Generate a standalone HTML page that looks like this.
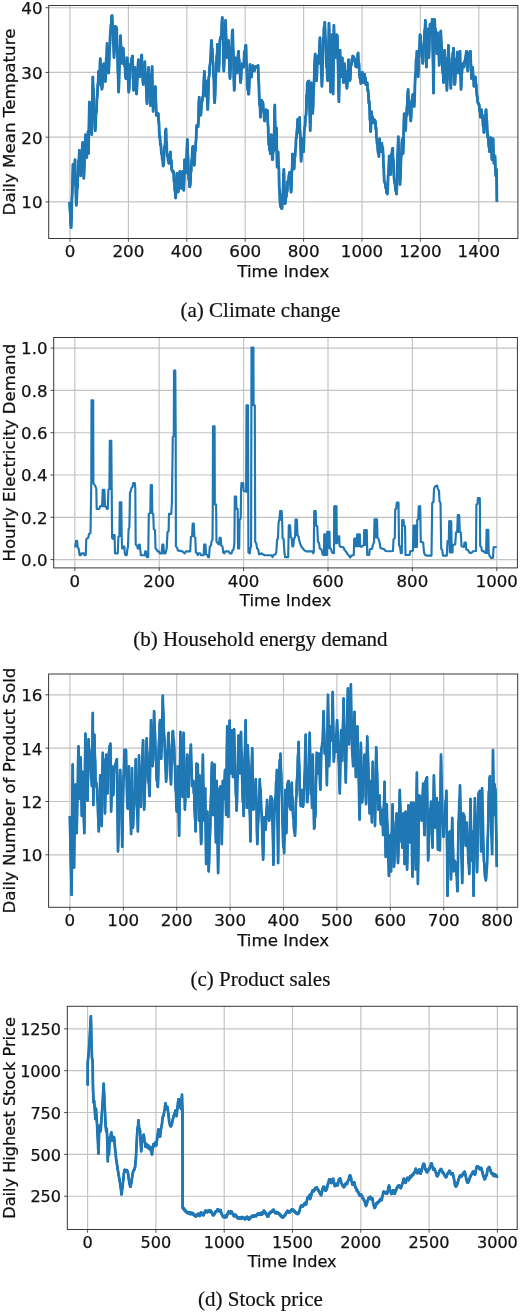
<!DOCTYPE html>
<html lang="en"><head><meta charset="utf-8"><title>Time series examples</title>
<style>
html,body{margin:0;padding:0;background:#fff}
svg{display:block}
.t{font-family:"DejaVu Sans", "Liberation Sans", sans-serif;fill:#111;stroke:#111;stroke-width:0.25}
.cap{font-family:"Liberation Serif", "DejaVu Serif", serif;fill:#111;font-size:21px;stroke:#111;stroke-width:0.2}
.g{stroke:#c3c3c3;stroke-width:1.15;fill:none}
.sp{stroke:#383838;stroke-width:1;fill:none}
.tk{stroke:#3a3a3a;stroke-width:0.9;fill:none}
.ln{stroke:#1f77b4;stroke-width:2.15;fill:none;stroke-linejoin:round;stroke-linecap:butt}
</style></head><body>
<svg width="520" height="1313" viewBox="0 0 520 1313">
<rect width="520" height="1313" fill="#fff"/>
<g id="chart-a">
<clipPath id="clip-a"><rect x="48.7" y="5.5" width="469.2" height="233.0"/></clipPath>
<path class="g" d="M70.00 5.5V238.5M128.40 5.5V238.5M186.80 5.5V238.5M245.20 5.5V238.5M303.60 5.5V238.5M362.00 5.5V238.5M420.40 5.5V238.5M478.80 5.5V238.5M48.7 201.90H517.9M48.7 137.17H517.9M48.7 72.44H517.9M48.7 7.71H517.9"/>
<g class="ln" clip-path="url(#clip-a)"><path id="ln-a" d="M69.6 201.9L70.0 210.8L70.3 212.9L70.7 224.6L71.1 227.9L71.5 217.0L71.9 199.6L72.3 192.3L72.7 175.4L73.0 164.4L73.4 174.0L73.7 176.2L74.0 184.6L74.3 178.9L74.6 166.2L75.0 159.6L75.3 172.9L75.6 179.9L76.0 197.5L76.3 205.4L76.7 200.2L77.1 189.0L77.5 187.1L77.8 176.9L78.2 174.1L78.6 160.5L79.0 159.3L79.4 150.0L79.7 160.4L80.1 161.3L80.4 173.1L80.7 176.0L81.1 171.5L81.5 160.6L81.9 157.7L82.3 146.7L82.7 142.3L83.0 157.9L83.4 164.4L83.8 178.5L84.2 170.5L84.7 153.4L85.1 148.1L85.5 134.6L85.9 145.2L86.3 148.2L86.7 157.7L87.0 152.9L87.4 142.6L87.7 141.5L88.0 131.7L88.4 153.8L88.7 139.2L89.1 116.9L89.4 101.9L89.8 110.4L90.1 110.1L90.5 120.6L90.9 120.2L91.3 132.4L91.7 134.6L92.1 117.6L92.5 93.2L92.8 76.9L93.2 88.8L93.6 91.2L94.0 107.2L94.4 110.5L94.8 125.7L95.2 130.8L95.6 125.2L96.0 113.3L96.5 111.8L96.9 99.0L97.3 96.3L97.8 84.4L98.2 81.8L98.6 71.2L99.0 81.3L99.4 84.6L99.7 78.9L100.0 63.6L100.3 58.6L100.7 68.7L101.1 70.8L101.5 84.8L101.9 89.4L102.3 87.2L102.7 76.3L103.0 77.5L103.4 64.8L103.8 63.5L104.2 70.8L104.6 69.4L105.0 78.9L105.3 81.7L105.8 75.4L106.2 59.3L106.6 56.9L107.1 43.3L107.5 54.3L107.8 55.9L108.2 68.2L108.6 73.1L109.0 66.7L109.4 52.2L109.8 46.9L110.2 34.6L110.5 32.8L110.9 25.0L111.3 24.8L111.7 15.8L112.1 15.4L112.5 25.8L112.8 30.1L113.2 43.3L113.6 45.5L114.0 57.7L114.5 48.9L114.9 33.9L115.3 26.0L115.8 27.6L116.2 27.1L116.7 28.9L117.1 45.1L117.5 50.6L117.8 69.2L118.2 77.0L118.6 92.3L119.0 83.4L119.4 65.9L119.8 62.2L120.2 45.0L120.5 35.6L120.9 44.6L121.3 47.4L121.7 58.7L122.1 63.5L122.5 61.1L122.8 50.2L123.2 48.1L123.7 55.4L124.1 56.7L124.6 66.1L125.0 66.1L125.5 76.7L125.9 78.8L126.4 75.7L126.8 61.5L127.3 57.7L127.7 69.2L128.0 71.9L128.4 86.9L128.8 92.3L129.2 88.3L129.6 77.0L130.0 78.5L130.3 65.5L130.7 63.5L131.2 63.6L131.6 58.1L132.0 59.2L132.5 55.8L132.8 69.2L133.2 75.7L133.6 90.4L134.0 86.4L134.4 77.1L134.8 75.2L135.2 67.3L135.6 78.3L136.1 82.8L136.5 94.2L136.9 89.0L137.3 78.8L137.7 75.4L138.0 64.7L138.4 59.6L138.8 66.4L139.1 66.6L139.4 76.3L139.8 76.9L140.2 75.6L140.5 66.1L140.9 65.9L141.3 56.8L141.7 54.8L142.1 64.7L142.5 67.8L142.8 80.8L143.2 84.6L143.6 82.8L144.0 70.4L144.4 70.1L144.8 61.5L145.2 70.4L145.5 73.8L145.9 85.1L146.3 87.5L146.7 100.4L147.1 103.8L147.5 96.7L147.9 83.9L148.2 80.3L148.6 67.3L149.0 74.7L149.3 74.3L149.6 80.8L149.9 92.0L150.3 95.8L150.6 105.8L151.0 98.8L151.4 82.1L151.7 79.9L152.1 66.3L152.4 84.7L152.8 94.2L153.1 111.5L153.5 107.0L154.0 95.4L154.4 90.4L154.7 90.1L155.1 87.0L155.4 86.5L155.7 99.6L156.0 103.4L156.3 115.4L156.7 115.3L157.1 114.1L157.5 114.8L157.9 113.3L158.3 113.5L158.6 122.8L158.9 121.4L159.2 130.8L159.6 138.0L160.0 136.3L160.4 145.2L160.8 143.7L161.2 150.0L161.5 154.2L161.9 153.5L162.3 160.0L162.7 158.0L163.1 166.1L163.5 165.4L163.8 162.9L164.2 149.9L164.6 146.2L165.1 144.2L165.5 130.6L166.0 128.8L166.3 140.4L166.6 141.8L166.9 151.9L167.3 156.1L167.7 154.7L168.1 160.6L168.5 159.3L168.8 163.5L169.2 163.3L169.6 154.4L170.0 157.9L170.4 151.9L170.8 160.4L171.3 160.3L171.7 169.2L172.1 171.0L172.5 170.2L172.9 172.5L173.3 171.2L173.7 173.1L174.0 181.6L174.4 179.7L174.8 190.8L175.2 191.1L175.6 198.1L176.0 193.2L176.5 179.0L176.9 173.1L177.3 183.0L177.7 182.0L178.1 192.3L178.5 190.6L178.8 181.3L179.2 183.5L179.6 172.0L180.0 171.2L180.4 178.9L180.9 180.8L181.3 188.5L181.8 184.7L182.2 173.1L182.7 171.2L183.1 181.1L183.5 182.0L183.8 190.4L184.2 178.6L184.6 159.6L185.0 166.9L185.4 163.2L185.8 172.2L186.2 173.1L186.5 164.8L186.9 148.7L187.3 139.4L187.7 152.3L188.1 157.9L188.5 173.1L188.8 179.6L189.2 176.9L189.6 187.0L190.0 186.5L190.4 182.9L190.8 170.3L191.2 171.4L191.5 161.5L192.0 158.5L192.4 149.1L192.9 146.2L193.3 154.9L193.8 156.8L194.2 165.4L194.6 162.6L195.0 151.6L195.4 150.7L195.8 142.3L196.2 138.5L196.5 127.0L196.9 125.0L197.3 126.0L197.7 125.9L198.1 126.9L198.5 120.0L198.8 103.3L199.2 97.1L199.6 104.3L199.9 102.4L200.2 113.6L200.6 115.4L201.0 113.8L201.5 103.6L201.9 101.9L202.3 100.7L202.7 96.9L203.1 96.2L203.5 89.9L204.0 77.9L204.4 71.2L204.7 83.0L205.1 85.8L205.4 96.2L205.8 93.8L206.2 82.6L206.5 80.8L206.9 93.3L207.3 97.6L207.7 109.6L208.1 101.6L208.5 84.9L208.8 76.9L209.3 75.9L209.7 66.1L210.2 63.5L210.6 58.7L211.1 45.9L211.5 40.4L211.9 48.4L212.3 48.5L212.7 60.5L213.1 63.5L213.5 76.3L213.9 79.7L214.2 96.8L214.6 102.9L215.1 95.6L215.5 79.9L216.0 73.1L216.3 68.7L216.7 55.8L217.1 54.7L217.5 44.2L217.9 55.9L218.4 59.3L218.8 71.2L219.2 63.3L219.6 46.1L220.0 39.4L220.4 39.2L220.8 36.7L221.2 36.5L221.5 34.0L221.9 21.5L222.3 17.3L222.7 33.7L223.1 40.4L223.5 61.3L223.8 71.2L224.3 60.3L224.7 43.8L225.1 35.6L225.6 20.2L226.0 34.5L226.5 43.0L226.9 57.7L227.3 55.1L227.7 45.8L228.1 48.2L228.5 40.4L228.8 53.8L229.2 57.6L229.6 72.6L230.0 78.8L230.4 71.8L230.9 56.4L231.3 48.1L231.8 45.7L232.2 32.0L232.7 29.8L233.1 47.1L233.5 56.2L233.8 77.8L234.2 90.4L234.6 85.0L235.0 70.1L235.4 69.5L235.8 57.7L236.2 64.8L236.7 65.3L237.1 73.1L237.6 68.5L238.0 55.9L238.5 51.0L238.8 58.6L239.2 59.7L239.6 70.9L240.0 73.1L240.3 79.1L240.6 82.7L241.0 79.2L241.5 67.2L241.9 63.5L242.3 64.9L242.7 64.7L243.1 67.2L243.5 67.3L243.8 64.7L244.2 54.7L244.6 51.0L245.1 50.8L245.5 45.6L246.0 45.2L246.4 62.9L246.9 70.9L247.3 86.5L247.7 89.8L248.1 89.4L248.5 94.3L248.8 94.2L249.2 86.5L249.6 72.4L250.0 64.4L250.4 71.0L250.8 69.2L251.2 76.9L251.5 77.1L251.9 69.2L252.3 70.0L252.7 65.4L253.1 69.0L253.6 67.9L254.0 71.2L254.5 70.7L254.9 67.3L255.4 66.3L255.8 66.7L256.1 66.6L256.5 67.3L256.9 67.3L257.3 66.9L257.7 65.5L258.1 65.4L258.5 78.8L258.8 82.4L259.2 96.2L259.6 105.0L260.0 106.6L260.4 117.3L260.7 114.7L261.1 105.0L261.4 107.0L261.7 100.0L262.2 102.0L262.6 101.7L263.1 103.8L263.5 112.0L263.9 110.3L264.2 118.7L264.6 121.2L265.0 120.7L265.4 113.5L265.8 114.1L266.1 109.6L266.5 110.0L266.8 110.0L267.2 110.5L267.5 110.6L267.8 122.2L268.1 126.8L268.5 138.5L268.8 145.0L269.2 142.3L269.6 150.5L270.0 148.7L270.4 153.8L270.7 149.9L271.0 139.4L271.4 134.6L271.7 145.2L272.0 149.6L272.3 159.6L272.7 159.6L273.1 150.0L273.5 151.6L273.9 146.2L274.2 135.1L274.5 114.7L274.8 104.8L275.1 121.7L275.4 131.4L275.8 150.0L276.2 141.6L276.5 127.9L276.8 150.4L277.1 167.3L277.4 165.8L277.8 154.5L278.1 151.9L278.5 164.8L278.9 168.9L279.2 186.2L279.6 192.3L280.0 201.5L280.4 205.8L280.8 207.3L281.1 206.5L281.5 208.6L281.9 208.7L282.2 205.8L282.6 195.3L282.9 192.3L283.2 186.3L283.5 175.0L283.9 169.2L284.2 182.5L284.6 188.9L285.0 203.8L285.4 202.9L285.9 196.4L286.3 196.8L286.7 192.3L287.2 191.6L287.6 181.4L288.1 180.8L288.5 180.7L288.9 175.0L289.2 175.7L289.6 172.1L290.0 179.5L290.4 179.5L290.8 189.2L291.1 192.3L291.5 185.4L291.8 170.8L292.2 167.4L292.5 153.8L292.8 161.6L293.2 158.6L293.5 167.6L293.9 169.2L294.2 168.3L294.6 157.3L295.0 157.3L295.4 150.0L295.8 146.8L296.1 137.9L296.5 138.3L296.9 130.8L297.3 127.4L297.7 119.2L298.1 125.8L298.5 125.4L298.9 132.7L299.2 126.6L299.6 117.3L300.0 130.6L300.4 137.6L300.8 153.0L301.1 161.5L301.5 155.5L301.9 144.5L302.3 138.5L302.7 145.3L303.1 145.3L303.5 151.9L303.8 146.6L304.2 132.4L304.6 126.9L305.1 126.0L305.5 116.5L306.0 115.4L306.3 110.5L306.6 95.3L307.0 93.4L307.3 82.7L307.7 82.6L308.1 81.2L308.5 81.5L308.9 80.8L309.3 100.8L309.7 111.0L310.2 130.8L310.6 116.4L311.0 95.1L311.4 82.7L311.8 96.7L312.2 100.1L312.7 113.5L313.1 107.2L313.5 90.7L313.9 84.6L314.3 76.3L314.7 61.2L315.2 53.9L315.5 63.4L315.9 63.7L316.2 77.6L316.5 80.8L316.9 76.0L317.3 61.1L317.7 55.8L318.1 60.5L318.5 59.0L318.9 63.5L319.2 58.1L319.6 44.0L320.0 37.5L320.4 49.0L320.8 55.2L321.2 69.4L321.5 74.9L321.9 86.5L322.4 74.1L322.8 51.5L323.3 38.5L323.7 37.5L324.0 27.2L324.4 29.4L324.8 22.1L325.3 36.8L325.7 44.2L326.1 57.7L326.5 67.0L326.9 65.8L327.3 77.8L327.7 80.8L328.0 69.2L328.4 48.7L328.7 39.3L329.0 23.1L329.4 38.0L329.7 43.9L330.0 57.7L330.3 76.8L330.6 92.3L331.0 75.3L331.5 50.5L331.9 34.6L332.3 56.6L332.7 71.0L333.1 94.2L333.5 63.6L333.9 25.0L334.2 36.0L334.6 38.8L335.0 52.3L335.4 57.7L335.7 53.2L336.0 38.9L336.4 34.6L336.7 35.2L337.0 35.0L337.3 35.6L337.7 54.0L338.1 66.8L338.5 87.5L338.9 101.9L339.2 88.0L339.6 65.0L340.0 50.0L340.4 61.9L340.8 66.3L341.1 76.9L341.5 72.3L341.9 61.9L342.3 57.7L342.7 69.2L343.1 71.1L343.5 82.7L343.8 79.5L344.2 67.6L344.6 63.5L345.0 71.4L345.4 71.0L345.8 78.8L346.2 84.0L346.5 83.9L346.9 88.5L347.3 85.0L347.7 72.0L348.1 70.8L348.5 59.6L348.8 68.8L349.1 68.6L349.5 78.2L349.8 80.8L350.3 79.2L350.7 66.6L351.1 65.4L351.5 64.9L351.9 59.0L352.3 59.7L352.7 55.8L353.1 56.8L353.5 56.4L353.8 57.6L354.2 57.7L354.7 61.8L355.1 61.6L355.6 66.3L356.0 66.9L356.5 66.9L356.9 67.3L357.3 66.1L357.7 54.9L358.1 52.9L358.5 63.3L359.0 63.1L359.4 73.1L359.9 78.3L360.3 77.2L360.8 83.7L361.2 83.2L361.5 76.4L361.9 76.4L362.3 72.1L362.7 77.8L363.1 77.0L363.5 82.7L363.8 81.3L364.2 75.7L364.6 74.0L365.0 78.6L365.4 77.5L365.8 84.8L366.1 84.6L366.5 84.2L366.9 82.8L367.3 82.7L367.7 90.8L368.1 89.8L368.5 96.2L368.8 103.3L369.2 101.0L369.6 107.7L369.9 119.5L370.3 121.4L370.6 131.7L370.9 127.5L371.2 115.7L371.5 111.5L372.0 118.8L372.4 116.6L372.9 123.1L373.2 122.5L373.5 119.8L373.9 119.2L374.2 120.0L374.6 119.9L375.0 120.9L375.4 121.2L375.7 129.1L376.1 127.5L376.4 138.0L376.7 138.5L377.1 143.3L377.4 143.3L377.7 148.1L378.1 152.8L378.5 152.5L378.9 156.7L379.2 150.1L379.6 138.5L380.0 146.8L380.4 143.7L380.8 151.9L381.2 151.3L381.5 144.1L381.9 143.3L382.3 149.8L382.7 147.3L383.1 153.8L383.5 165.7L383.8 168.5L384.2 180.8L384.6 182.5L385.0 182.4L385.4 184.6L385.8 188.5L386.2 186.0L386.5 192.7L386.9 190.7L387.3 194.2L387.7 188.9L388.1 176.3L388.5 173.1L388.8 166.3L389.2 155.8L389.6 164.9L390.0 166.2L390.4 175.0L390.8 170.3L391.2 157.5L391.5 153.8L391.9 153.6L392.3 149.0L392.7 148.1L393.0 158.5L393.4 160.2L393.7 172.6L394.0 176.9L394.5 183.0L394.9 182.9L395.4 188.5L395.8 191.2L396.2 191.4L396.5 194.2L396.9 185.8L397.2 167.1L397.5 157.7L397.9 149.2L398.3 136.5L398.6 151.2L398.9 154.3L399.2 169.2L399.6 179.6L400.0 184.6L400.4 177.6L400.8 164.6L401.1 157.7L401.5 153.1L401.9 142.4L402.3 138.5L402.7 148.0L403.1 153.8L403.5 142.6L403.8 124.7L404.2 113.5L404.6 122.2L405.0 121.3L405.4 130.8L405.8 128.4L406.1 116.6L406.5 116.1L406.9 107.7L407.3 104.5L407.7 93.0L408.1 89.4L408.5 98.6L409.0 101.1L409.4 109.6L409.9 115.4L410.3 113.9L410.8 121.2L411.2 116.0L411.5 104.2L411.9 100.0L412.3 99.4L412.7 94.6L413.1 94.2L413.5 100.4L413.8 100.5L414.2 106.7L414.6 98.3L415.0 83.0L415.4 75.0L415.8 71.7L416.1 59.1L416.5 60.6L416.9 51.0L417.3 63.3L417.7 66.6L418.1 76.9L418.5 69.6L418.8 55.7L419.2 50.0L419.6 46.1L420.0 34.6L420.3 35.3L420.6 35.6L420.9 43.4L421.2 43.6L421.5 50.0L421.9 57.0L422.3 55.1L422.7 63.5L423.1 61.3L423.5 48.3L423.9 46.1L424.2 43.6L424.6 31.0L425.0 28.5L425.4 20.2L425.7 37.9L426.0 48.7L426.4 67.3L426.8 57.7L427.2 37.8L427.7 28.9L428.1 41.8L428.5 44.9L428.9 57.7L429.2 49.9L429.6 32.6L430.0 24.0L430.4 29.9L430.8 29.7L431.1 34.6L431.5 33.0L431.9 22.2L432.3 19.2L432.7 47.7L433.1 65.4L433.5 93.3L433.8 70.9L434.2 42.0L434.6 19.2L435.0 27.8L435.4 28.9L435.8 38.5L436.2 46.9L436.5 46.9L436.9 53.9L437.3 48.6L437.7 36.9L438.1 32.7L438.5 46.6L438.8 52.0L439.2 65.4L439.6 58.9L440.0 45.0L440.4 41.0L440.8 30.8L441.2 41.3L441.5 44.4L441.9 59.2L442.3 63.5L442.7 73.0L443.1 72.6L443.5 82.7L443.8 74.5L444.2 58.7L444.6 50.0L445.0 58.0L445.4 57.6L445.8 67.3L446.2 78.3L446.5 80.4L446.9 90.4L447.3 80.7L447.7 65.0L448.1 59.7L448.5 45.2L448.8 55.8L449.2 59.0L449.6 69.2L450.0 78.8L450.4 78.2L450.8 88.5L451.2 82.3L451.5 70.1L451.9 63.5L452.3 62.0L452.7 53.2L453.1 55.2L453.5 48.1L453.8 62.3L454.2 68.9L454.6 84.6L455.0 83.7L455.4 74.5L455.8 73.1L456.2 69.9L456.5 58.6L456.9 59.6L457.3 51.9L457.7 62.5L458.1 63.9L458.5 73.1L458.8 69.7L459.2 58.6L459.6 58.8L460.0 51.0L460.3 67.7L460.6 73.8L461.0 89.4L461.3 85.0L461.6 74.3L462.0 72.6L462.3 63.5L462.7 65.3L463.1 64.3L463.5 66.9L463.9 67.3L464.2 66.7L464.6 61.0L465.0 62.9L465.4 57.7L465.8 56.4L466.2 52.3L466.5 51.0L466.9 59.4L467.3 61.9L467.7 71.2L468.1 69.8L468.5 57.2L468.9 55.8L469.2 55.8L469.6 51.9L470.0 53.5L470.4 51.0L470.8 62.6L471.2 67.5L471.5 78.8L471.9 78.3L472.3 68.2L472.7 67.3L473.1 75.4L473.5 76.9L473.9 86.5L474.2 85.9L474.6 79.9L475.0 81.1L475.4 76.9L475.8 83.4L476.2 84.3L476.5 90.4L476.9 96.2L477.3 96.0L477.7 101.9L478.1 103.5L478.5 103.0L478.8 104.9L479.2 104.8L479.6 110.9L480.0 110.8L480.4 117.3L480.8 116.8L481.2 110.1L481.5 109.6L481.9 114.7L482.3 114.8L482.7 119.2L483.1 126.5L483.5 125.7L483.9 132.7L484.2 132.2L484.6 124.8L485.0 123.1L485.4 121.1L485.8 110.4L486.1 109.6L486.5 118.3L486.9 121.1L487.3 130.8L487.7 137.7L488.1 135.5L488.5 142.3L488.8 146.7L489.2 147.5L489.6 151.9L490.0 148.9L490.4 138.5L490.8 137.5L491.2 147.1L491.5 148.9L491.9 159.6L492.3 156.3L492.7 143.1L493.1 138.5L493.5 153.2L493.9 163.5L494.2 163.1L494.6 156.6L495.0 155.8L495.4 168.1L495.8 176.0L496.2 174.3L496.5 169.2L496.9 201.9"/>
<use href="#ln-a" x="-0.33"/><use href="#ln-a" x="0.33"/>
</g>
<path class="tk" d="M70.00 238.5v3.2M128.40 238.5v3.2M186.80 238.5v3.2M245.20 238.5v3.2M303.60 238.5v3.2M362.00 238.5v3.2M420.40 238.5v3.2M478.80 238.5v3.2M48.7 201.90h-3.2M48.7 137.17h-3.2M48.7 72.44h-3.2M48.7 7.71h-3.2"/>
<rect class="sp" x="48.7" y="5.5" width="469.2" height="233.0"/>
<g class="t" font-size="16.7" text-anchor="middle">
<text x="70.0" y="257.3">0</text>
<text x="128.4" y="257.3">200</text>
<text x="186.8" y="257.3">400</text>
<text x="245.2" y="257.3">600</text>
<text x="303.6" y="257.3">800</text>
<text x="362.0" y="257.3">1000</text>
<text x="420.4" y="257.3">1200</text>
<text x="478.8" y="257.3">1400</text>
<text x="283.3" y="277.2">Time Index</text>
<text transform="translate(14.8 122.0) rotate(-90)">Daily Mean Tempature</text>
</g>
<g class="t" font-size="16.7" text-anchor="end">
<text x="42.5" y="208.2">10</text>
<text x="42.5" y="143.5">20</text>
<text x="42.5" y="78.8">30</text>
<text x="42.5" y="14.1">40</text>
</g>
<text class="cap" text-anchor="middle" x="260.4" y="316.9">(a) Climate change</text>
</g>
<g id="chart-b">
<clipPath id="clip-b"><rect x="53.7" y="337.5" width="463.7" height="230.4"/></clipPath>
<path class="g" d="M74.80 337.5V567.9M159.20 337.5V567.9M243.60 337.5V567.9M328.00 337.5V567.9M412.40 337.5V567.9M496.80 337.5V567.9M53.7 559.60H517.4M53.7 517.30H517.4M53.7 475.00H517.4M53.7 432.70H517.4M53.7 390.40H517.4M53.7 348.10H517.4"/>
<g class="ln" clip-path="url(#clip-b)"><path id="ln-b" d="M74.2 546.5L75.5 546.5L76.1 540.8L77.1 540.8L77.7 547.5L78.6 548.5L79.6 555.2L80.9 555.2L81.5 553.3L83.8 553.3L84.4 555.2L85.7 555.2L86.3 538.9L88.2 537.9L89.0 534.0L90.5 533.1L91.3 481.1L91.5 400.4L91.9 481.1L92.4 400.4L92.8 481.1L93.2 400.4L93.4 483.1L95.3 486.0L96.3 488.9L96.7 509.0L99.2 509.0L100.2 506.1L102.1 506.1L102.7 489.8L103.1 506.1L103.5 489.8L103.9 506.1L104.4 489.8L105.0 506.1L106.3 507.1L106.9 509.0L107.8 509.0L108.4 489.8L109.4 488.9L109.8 440.8L110.2 488.9L110.5 440.8L110.9 488.9L111.3 440.8L111.7 488.9L112.1 537.9L113.2 538.9L113.6 535.0L114.6 535.0L115.0 553.3L117.8 553.3L118.4 536.9L119.4 536.0L119.8 502.3L120.2 536.0L120.5 502.3L120.9 536.0L121.3 502.3L121.7 536.0L122.1 548.5L122.8 548.5L123.2 546.5L124.4 546.5L124.8 553.3L125.5 555.2L126.7 555.2L127.5 548.5L128.0 546.5L128.6 529.2L129.4 527.3L130.0 492.7L130.9 490.8L131.5 487.9L132.5 486.9L133.2 483.1L134.8 483.1L135.3 488.9L135.7 544.6L137.1 545.6L137.7 548.5L138.6 548.5L139.0 544.6L139.8 544.6L140.2 549.4L140.9 555.2L144.8 555.2L145.2 551.4L145.9 551.4L146.3 556.1L147.1 557.1L148.2 557.1L148.2 557.1L148.8 513.9L150.3 512.9L150.7 485.0L151.3 512.9L151.9 485.0L152.3 512.9L153.2 513.9L153.8 529.2L155.0 530.2L155.5 548.5L156.7 549.4L157.5 551.4L159.0 551.4L159.8 553.3L161.7 553.3L162.3 544.6L162.8 553.3L163.4 544.6L164.0 553.3L165.5 553.3L166.7 548.5L167.5 532.1L168.6 531.1L169.0 513.9L171.3 513.9L171.9 502.3L172.8 436.9L173.8 436.0L174.0 370.6L174.3 436.0L174.7 370.6L175.0 436.0L175.3 370.6L175.7 436.0L175.9 546.5L177.1 547.5L177.8 550.4L182.5 551.4L183.4 552.3L184.8 553.3L185.9 551.4L190.2 551.4L190.9 536.9L192.1 536.0L192.7 523.5L193.2 536.0L193.8 523.5L194.4 536.9L195.3 537.9L195.9 552.3L197.1 553.3L197.8 555.2L198.6 553.3L200.2 553.3L200.9 555.2L203.6 555.2L204.2 544.6L204.5 554.2L204.9 544.6L205.2 554.2L205.5 544.6L206.1 554.2L207.5 555.2L208.0 557.1L209.0 557.1L209.8 546.5L210.9 545.6L211.7 540.8L212.5 539.8L212.8 504.2L213.0 426.4L213.4 504.2L213.8 426.4L214.2 504.2L214.6 426.4L214.8 504.2L216.1 504.6L216.5 541.7L218.0 543.6L219.0 544.6L219.6 537.9L220.7 537.9L221.3 545.6L222.5 546.5L223.2 552.3L224.4 553.3L225.2 551.4L228.6 551.4L229.8 553.3L231.5 553.3L232.5 550.4L233.6 549.4L234.4 542.7L234.8 496.5L235.1 509.0L235.4 496.5L235.8 509.0L236.1 496.5L236.5 509.0L237.7 509.0L238.0 548.5L239.2 548.5L239.6 519.6L240.7 518.6L241.1 488.9L241.5 483.1L243.2 483.1L243.6 490.8L246.1 491.7L246.5 405.2L246.9 491.7L247.3 405.2L247.7 491.7L248.0 405.2L248.4 552.3L249.8 553.3L250.5 547.5L251.1 546.5L251.5 347.5L252.0 405.2L252.5 347.5L252.9 405.2L253.4 347.5L253.6 405.2L254.8 405.2L255.2 541.7L256.3 543.6L257.1 548.5L258.2 549.4L259.0 554.2L260.5 554.2L261.3 553.3L262.9 554.2L264.8 555.2L271.5 555.2L272.5 557.1L273.4 555.2L275.4 554.2L276.3 552.3L277.1 539.8L277.9 538.9L278.6 522.5L279.4 519.6L280.1 511.0L280.5 519.6L280.9 511.0L281.3 519.6L281.7 511.0L282.1 519.6L282.6 537.9L283.6 538.9L284.4 552.3L285.1 557.1L288.2 557.1L288.8 525.4L289.1 536.9L289.5 525.4L289.8 536.9L290.1 525.4L290.7 536.9L291.7 537.9L292.3 546.5L293.2 546.5L294.0 538.9L295.1 536.9L295.5 519.6L295.9 535.0L296.2 519.6L296.5 535.0L296.9 519.6L297.5 535.0L298.6 536.9L299.8 542.7L301.3 546.5L302.9 548.5L304.4 550.4L306.1 551.4L312.9 551.4L313.2 553.3L313.8 552.3L314.2 511.0L314.6 525.4L315.0 511.0L315.3 525.4L315.7 511.0L316.1 525.4L317.3 526.4L317.9 541.7L319.0 542.7L319.8 548.5L321.5 549.4L322.5 554.2L323.6 555.2L324.0 555.0L324.2 534.4L324.8 555.0L325.2 534.4L325.8 555.0L326.2 534.4L326.5 555.0L327.0 555.0L327.2 531.9L327.6 548.1L328.0 531.9L328.4 548.1L328.8 531.9L329.1 548.1L329.5 531.9L329.8 548.1L331.0 548.8L331.8 551.9L332.8 553.1L334.0 553.1L334.2 506.2L334.6 543.1L335.0 506.2L335.4 543.1L335.8 506.2L336.1 543.1L336.5 506.2L336.8 543.1L337.2 543.1L337.5 536.2L339.2 536.2L339.6 546.2L340.9 546.9L343.4 547.2L344.6 550.0L346.2 551.9L347.8 554.4L349.0 555.6L350.2 557.5L351.5 555.6L353.8 555.0L354.2 538.8L354.8 546.2L355.2 538.5L355.8 546.2L356.2 538.2L356.8 546.2L357.2 534.4L357.9 546.2L358.5 534.4L359.1 546.2L359.8 534.4L360.2 546.2L361.5 546.9L363.8 545.0L364.2 530.0L364.7 545.0L365.1 530.0L365.5 545.0L365.9 530.0L366.3 545.0L366.8 530.0L367.2 555.0L369.2 555.0L369.8 549.4L372.1 548.8L372.8 545.0L374.0 542.5L374.5 519.4L374.9 537.5L375.3 519.4L375.8 537.5L376.2 519.4L376.6 537.5L377.0 519.4L377.5 537.5L378.5 538.8L379.6 542.5L380.5 548.1L382.8 548.8L384.6 549.4L385.5 551.0L389.0 551.2L393.0 551.0L393.5 539.4L394.8 538.1L395.2 509.4L396.2 508.8L396.8 502.5L398.5 502.5L399.0 545.0L400.0 546.9L400.8 553.1L401.8 553.1L402.2 520.0L403.5 520.0L404.0 525.6L405.0 526.2L405.5 555.0L409.6 555.0L410.2 551.2L413.0 550.6L413.5 525.6L414.0 546.9L414.5 525.6L415.0 546.9L415.5 525.6L416.0 546.9L416.5 525.6L417.0 546.9L417.2 520.0L418.2 519.4L418.8 506.2L419.0 506.2L420.2 506.2L420.8 541.9L423.2 542.5L424.0 552.5L425.2 555.0L426.5 555.6L431.5 555.6L432.2 503.1L433.5 501.9L434.0 488.8L435.2 486.2L437.2 485.6L438.0 489.4L439.0 490.6L439.5 501.2L440.5 503.1L441.2 548.8L442.2 550.0L443.0 555.6L446.8 555.6L447.5 541.2L448.8 540.6L449.2 521.2L449.8 552.5L450.2 521.2L450.8 552.5L451.2 521.2L451.8 552.5L452.5 552.5L452.8 545.0L455.2 544.4L456.0 532.5L457.2 531.9L457.8 515.0L458.1 531.9L458.5 515.0L458.9 531.9L459.2 515.0L459.8 531.9L460.8 532.5L461.5 546.2L464.0 546.9L464.5 542.5L465.8 542.5L466.2 549.4L468.0 550.0L469.0 551.9L470.2 553.1L472.1 552.5L473.0 551.2L475.5 551.0L476.0 550.9L476.4 504.4L477.5 503.9L477.9 498.0L479.8 498.0L480.2 546.1L481.3 547.2L481.9 550.9L484.0 551.4L485.1 553.0L486.1 553.0L486.6 529.8L487.0 553.0L487.4 529.8L487.9 553.0L488.3 529.8L488.7 553.6L489.9 556.2L490.9 557.8L493.0 557.8L493.6 547.2L496.7 547.0"/>
</g>
<path class="tk" d="M74.80 567.9v3.2M159.20 567.9v3.2M243.60 567.9v3.2M328.00 567.9v3.2M412.40 567.9v3.2M496.80 567.9v3.2M53.7 559.60h-3.2M53.7 517.30h-3.2M53.7 475.00h-3.2M53.7 432.70h-3.2M53.7 390.40h-3.2M53.7 348.10h-3.2"/>
<rect class="sp" x="53.7" y="337.5" width="463.7" height="230.4"/>
<g class="t" font-size="16.6" text-anchor="middle">
<text x="74.8" y="586.6">0</text>
<text x="159.2" y="586.6">200</text>
<text x="243.6" y="586.6">400</text>
<text x="328.0" y="586.6">600</text>
<text x="412.4" y="586.6">800</text>
<text x="496.8" y="586.6">1000</text>
<text x="285.6" y="606.3">Time Index</text>
<text transform="translate(15.0 452.7) rotate(-90)">Hourly Electricity Demand</text>
</g>
<g class="t" font-size="16.6" text-anchor="end">
<text x="47.5" y="565.9">0.0</text>
<text x="47.5" y="523.6">0.2</text>
<text x="47.5" y="481.3">0.4</text>
<text x="47.5" y="439.0">0.6</text>
<text x="47.5" y="396.7">0.8</text>
<text x="47.5" y="354.4">1.0</text>
</g>
<text class="cap" text-anchor="middle" x="260.4" y="646.2">(b) Household energy demand</text>
</g>
<g id="chart-c">
<clipPath id="clip-c"><rect x="48.6" y="674.0" width="469.1" height="233.3"/></clipPath>
<path class="g" d="M69.90 674.0V907.3M123.30 674.0V907.3M176.70 674.0V907.3M230.10 674.0V907.3M283.50 674.0V907.3M336.90 674.0V907.3M390.30 674.0V907.3M443.70 674.0V907.3M497.10 674.0V907.3M48.6 854.80H517.7M48.6 801.47H517.7M48.6 748.14H517.7M48.6 694.81H517.7"/>
<g class="ln" clip-path="url(#clip-c)"><path id="ln-c" d="M69.8 816.1L70.2 834.3L70.5 845.7L70.9 866.6L71.2 877.4L71.6 895.0L72.0 854.3L72.3 805.5L72.7 764.4L73.1 792.0L73.4 813.3L73.8 843.6L74.1 867.8L74.5 829.2L74.9 785.3L75.2 785.0L75.6 784.4L76.0 802.5L76.3 814.4L76.7 833.3L77.0 819.5L77.4 796.6L77.8 783.3L78.1 760.6L78.5 746.3L78.9 767.7L79.2 778.4L79.6 798.9L79.9 787.5L80.3 767.1L80.7 757.2L81.0 778.5L81.4 792.8L81.8 816.1L82.1 803.6L82.5 784.6L82.8 771.7L83.2 789.0L83.6 800.2L83.9 821.5L84.3 833.3L84.7 802.1L85.0 763.9L85.4 733.6L85.7 750.1L86.1 757.7L86.5 773.5L86.8 785.5L87.2 789.9L87.5 800.7L87.9 781.9L88.3 757.5L88.6 739.1L89.0 748.9L89.4 749.7L89.7 759.0L90.1 765.5L90.5 764.6L90.8 771.7L91.2 779.2L91.5 779.0L91.9 786.2L92.2 765.2L92.5 734.0L92.8 712.8L93.1 761.2L93.3 805.2L93.7 784.6L94.1 755.2L94.4 734.5L94.8 753.6L95.2 762.0L95.5 780.8L95.9 783.8L96.3 782.2L96.6 787.2L97.0 788.0L97.3 799.3L97.7 802.0L98.1 816.1L98.4 820.0L98.8 831.5L99.2 819.2L99.5 800.2L99.9 792.8L100.2 775.3L100.6 791.0L101.0 797.0L101.3 815.7L101.7 826.1L102.1 804.9L102.4 774.1L102.8 752.7L103.1 760.2L103.5 759.0L103.9 766.3L104.2 785.6L104.6 793.8L105.0 813.4L105.3 801.4L105.7 780.7L106.0 771.0L106.4 754.5L106.8 770.8L107.1 777.3L107.5 793.5L107.9 787.0L108.2 769.0L108.6 764.5L108.9 751.8L109.3 751.3L109.7 745.7L110.0 746.7L110.4 743.6L110.8 780.3L111.1 811.6L111.5 798.5L111.8 779.5L112.2 766.3L112.6 777.7L112.9 782.1L113.3 795.3L113.7 788.1L114.0 774.9L114.4 768.1L114.7 767.6L115.1 764.6L115.5 764.4L115.8 763.8L116.2 760.6L116.6 761.6L116.9 759.0L117.3 793.5L117.6 817.1L118.0 851.5L118.4 837.6L118.7 814.1L119.1 798.9L119.5 791.8L119.8 777.1L120.2 769.9L120.5 783.3L120.9 785.3L121.3 798.9L121.6 816.9L121.9 828.9L122.2 846.9L122.6 827.0L123.0 800.7L123.4 780.8L123.8 773.3L124.2 757.2L124.5 749.9L124.9 749.9L125.3 749.9L125.6 749.9L126.0 749.9L126.3 768.7L126.7 779.6L127.1 798.9L127.4 806.8L127.8 808.9L128.2 797.9L128.5 777.6L128.9 766.3L129.2 780.2L129.6 784.8L130.0 798.9L130.3 812.4L130.7 818.7L131.1 834.2L131.4 815.6L131.7 786.4L132.0 768.1L132.3 791.5L132.6 805.4L132.9 827.9L133.2 823.8L133.6 812.7L134.0 808.0L134.3 805.0L134.7 794.1L135.0 789.8L135.4 776.2L135.8 759.0L136.1 774.4L136.5 783.6L136.9 798.9L137.2 812.2L137.6 818.9L137.9 831.5L138.3 807.7L138.7 778.8L139.0 755.4L139.3 765.7L139.7 769.8L140.0 780.8L140.3 791.2L140.6 794.6L140.9 807.0L141.2 798.9L141.6 782.7L142.0 773.5L142.3 764.5L142.7 748.7L143.1 740.0L143.4 765.7L143.8 784.6L144.1 809.8L144.5 803.7L144.9 786.4L145.2 780.8L145.6 772.8L146.0 756.7L146.3 750.6L146.7 738.2L147.0 748.8L147.4 753.4L147.8 766.9L148.1 773.5L148.5 782.8L148.9 782.9L149.2 792.2L149.6 796.2L149.9 781.0L150.3 755.2L150.7 741.0L151.0 720.0L151.4 734.5L151.8 741.5L152.1 757.6L152.5 766.3L152.9 756.4L153.3 734.9L153.7 728.1L154.1 711.0L154.5 725.6L155.0 733.3L155.4 748.1L155.7 759.2L156.1 762.8L156.5 775.3L156.8 780.8L157.2 778.1L157.5 786.3L157.9 787.1L158.3 773.8L158.6 752.7L159.0 740.9L159.4 737.9L159.7 723.3L160.1 720.0L160.5 736.6L160.8 742.5L161.2 759.0L161.6 746.5L162.0 725.1L162.4 714.3L162.8 695.6L163.1 708.3L163.4 714.4L163.7 726.4L164.1 735.3L164.4 738.6L164.8 748.1L165.2 761.5L165.6 767.2L166.1 781.7L166.5 775.6L166.9 759.1L167.3 751.8L167.8 749.3L168.2 735.1L168.6 732.7L169.0 748.4L169.5 753.8L169.9 768.1L170.2 775.6L170.6 776.8L171.0 784.4L171.3 773.2L171.6 755.7L171.9 744.5L172.2 743.1L172.6 731.7L173.0 730.9L173.4 740.3L173.8 739.6L174.2 748.1L174.6 762.2L175.0 766.4L175.3 780.8L175.7 790.3L176.0 793.0L176.4 807.7L176.8 811.6L177.1 799.9L177.5 778.0L177.8 766.3L178.3 792.3L178.7 810.8L179.1 836.0L179.5 804.8L180.0 764.2L180.4 731.8L180.8 749.2L181.1 755.7L181.5 773.5L181.8 783.9L182.2 786.7L182.6 797.1L182.9 779.5L183.3 750.8L183.7 732.7L184.1 760.4L184.5 782.2L184.9 809.8L185.3 799.6L185.8 781.8L186.2 773.5L186.6 770.7L186.9 758.9L187.3 754.5L187.6 772.3L188.0 778.9L188.4 797.1L188.7 791.2L189.1 776.5L189.4 769.9L189.8 766.5L190.2 755.3L190.5 752.5L190.9 744.5L191.3 762.3L191.6 769.1L192.0 786.2L192.4 786.0L192.7 781.9L193.1 783.2L193.4 780.8L193.8 792.9L194.2 794.1L194.5 806.1L194.9 816.7L195.3 820.8L195.6 831.5L195.9 811.2L196.2 784.0L196.5 763.5L196.9 764.0L197.4 764.0L197.8 764.4L198.2 785.8L198.5 800.0L198.9 820.6L199.2 801.8L199.6 775.3L200.0 795.0L200.3 807.1L200.7 830.0L201.1 844.2L201.4 838.9L201.7 823.5L202.0 817.0L202.3 800.0L202.6 772.5L202.9 754.5L203.2 779.4L203.6 795.7L204.0 820.6L204.4 811.4L204.8 796.2L205.2 788.0L205.5 815.4L205.8 837.2L206.1 864.1L206.6 850.1L207.0 827.1L207.4 811.6L207.8 834.2L208.2 848.1L208.7 871.4L209.1 862.2L209.5 844.8L210.0 835.1L210.3 825.9L210.6 808.0L210.9 798.9L211.2 790.3L211.6 772.9L212.0 762.6L212.3 783.1L212.7 795.5L213.1 815.2L213.4 804.8L213.8 786.4L214.1 779.9L214.5 764.4L214.9 786.9L215.2 800.0L215.6 826.7L215.9 842.4L216.3 814.2L216.7 780.8L217.0 806.9L217.4 824.2L217.8 852.9L218.1 873.2L218.5 848.7L218.8 814.9L219.2 789.8L219.6 789.7L219.9 787.3L220.3 788.2L220.7 786.2L221.0 808.8L221.4 821.2L221.8 844.2L222.1 826.9L222.5 799.7L222.8 780.8L223.2 789.7L223.6 789.0L223.9 798.9L224.3 792.8L224.7 777.6L225.0 769.9L225.4 786.9L225.7 797.4L226.1 815.2L226.5 787.4L226.8 753.8L227.2 726.4L227.6 758.4L227.9 783.6L228.3 817.0L228.7 788.3L229.1 749.0L229.6 720.6L230.0 740.2L230.4 752.5L230.8 773.5L231.2 762.2L231.5 742.6L231.9 730.0L232.3 749.4L232.6 757.5L233.0 777.1L233.4 763.2L233.7 741.2L234.1 729.1L234.4 744.6L234.8 752.2L235.2 771.8L235.5 780.8L235.9 794.3L236.3 798.7L236.6 810.7L237.0 800.9L237.3 783.1L237.7 773.5L238.0 763.2L238.3 746.1L238.6 735.4L239.0 750.5L239.5 757.5L239.9 773.5L240.2 761.3L240.6 742.8L241.0 731.8L241.3 748.5L241.7 758.3L242.1 776.4L242.4 788.0L242.8 800.5L243.3 803.9L243.7 816.1L244.0 798.8L244.3 774.1L244.6 759.0L245.0 749.5L245.3 729.1L245.7 720.0L246.0 751.2L246.4 776.4L246.8 808.0L247.1 788.8L247.5 762.8L247.8 745.4L248.3 760.6L248.7 769.5L249.1 784.4L249.5 806.0L250.0 818.7L250.4 841.5L250.7 822.4L251.0 793.9L251.3 773.5L251.8 762.8L252.2 748.1L252.6 772.5L253.0 786.2L253.5 809.8L253.8 808.8L254.1 801.0L254.4 798.9L254.7 795.6L255.1 785.7L255.5 786.6L255.8 779.0L256.2 797.0L256.6 807.7L256.9 831.0L257.3 844.2L257.6 838.7L258.0 824.3L258.4 817.0L258.7 811.1L259.1 796.2L259.5 792.1L259.8 779.0L260.2 788.3L260.5 789.8L260.9 798.9L261.3 810.3L261.6 812.0L262.0 824.3L262.4 838.3L262.7 845.9L263.1 859.6L263.5 848.3L263.9 829.0L264.4 817.0L264.8 823.0L265.2 823.6L265.6 829.7L266.0 823.9L266.3 812.7L266.7 809.6L267.1 799.8L267.4 807.9L267.8 807.8L268.2 817.0L268.5 818.8L268.9 818.7L269.2 820.6L269.6 816.5L270.0 806.0L270.3 803.9L270.7 796.2L271.1 797.3L271.4 797.2L271.8 798.9L272.1 798.9L272.6 823.9L273.0 840.9L273.4 865.0L273.7 850.6L274.0 826.8L274.3 813.4L274.7 810.4L275.0 800.2L275.4 798.9L275.8 794.3L276.1 781.6L276.5 780.7L276.9 769.9L277.3 803.5L277.7 829.3L278.1 863.2L278.4 836.6L278.7 799.5L279.0 773.5L279.4 770.9L279.8 759.9L280.1 761.9L280.5 753.6L280.9 768.0L281.2 773.7L281.6 790.0L282.0 798.9L282.3 815.1L282.7 826.0L283.1 842.4L283.4 847.5L283.8 846.9L284.1 853.3L284.5 834.3L284.9 809.0L285.2 789.8L285.6 806.1L285.9 815.2L286.3 833.3L286.7 820.7L287.0 797.5L287.4 784.4L287.8 783.8L288.1 781.4L288.5 780.8L288.9 791.5L289.2 795.0L289.6 806.1L289.9 807.9L290.3 807.8L290.7 809.8L291.0 802.9L291.4 787.7L291.8 782.6L292.1 795.6L292.5 797.8L292.8 809.8L293.2 818.0L293.6 817.9L293.9 827.9L294.3 832.0L294.6 831.8L295.0 836.0L295.4 825.3L295.7 808.8L296.1 798.9L296.5 794.4L296.8 781.6L297.2 777.1L297.6 770.4L297.9 756.6L298.3 752.2L298.6 741.8L299.0 759.4L299.4 770.8L299.7 788.0L300.1 796.6L300.4 798.4L300.8 806.1L301.2 802.4L301.5 792.9L301.9 789.8L302.3 797.7L302.6 798.3L303.0 807.0L303.4 803.3L303.7 790.5L304.1 790.5L304.4 780.8L304.9 768.7L305.3 746.2L305.7 734.5L306.1 759.4L306.6 776.9L307.0 801.6L307.3 802.2L307.7 792.8L308.1 794.7L308.4 788.0L308.9 772.7L309.3 749.4L309.7 732.7L310.1 752.3L310.5 761.0L311.0 780.8L311.3 792.9L311.7 795.5L312.1 808.0L312.4 784.8L312.8 754.5L313.2 781.2L313.6 801.2L314.1 828.8L314.5 827.3L314.9 817.8L315.3 817.0L315.7 804.5L316.0 781.3L316.4 771.7L316.8 752.7L317.1 763.4L317.5 763.3L317.9 773.5L318.2 770.1L318.6 758.1L318.9 753.6L319.3 764.3L319.7 769.8L320.0 783.2L320.4 789.8L320.8 777.8L321.1 758.4L321.5 748.1L321.8 747.5L322.2 743.2L322.6 742.7L322.9 735.2L323.3 718.3L323.6 711.0L324.0 727.9L324.4 737.8L324.7 753.6L325.1 752.9L325.5 745.2L325.8 744.5L326.2 760.9L326.6 768.8L326.9 785.3L327.3 758.3L327.6 723.1L328.0 694.7L328.4 721.9L328.7 740.2L329.1 766.3L329.5 754.7L329.8 737.4L330.2 726.4L330.5 733.4L330.9 731.5L331.3 740.6L331.6 740.9L332.0 728.5L332.4 705.5L332.7 691.9L333.1 717.7L333.4 735.7L333.8 761.7L334.2 756.2L334.5 740.8L334.9 735.4L335.3 744.0L335.6 743.2L336.0 751.8L336.3 743.0L336.7 728.7L337.1 720.0L337.4 730.4L337.8 733.0L338.2 744.5L338.6 759.1L339.0 766.0L339.4 782.8L339.8 793.5L340.2 774.0L340.6 748.9L341.1 730.0L341.4 743.5L341.8 747.3L342.1 760.8L342.5 748.4L342.9 727.3L343.2 716.8L343.6 698.3L344.0 717.6L344.3 728.8L344.7 748.1L345.0 761.5L345.4 767.3L345.8 782.6L346.1 765.9L346.5 741.2L346.9 726.4L347.2 717.5L347.6 699.4L347.9 688.3L348.3 709.7L348.7 722.2L349.0 744.5L349.4 736.4L349.8 717.8L350.1 710.6L350.5 694.3L350.9 684.3L351.2 708.3L351.6 722.3L352.0 744.5L352.3 754.8L352.7 757.1L353.1 766.3L353.4 755.5L353.8 735.2L354.1 727.4L354.5 711.9L354.9 731.8L355.2 741.7L355.6 764.5L355.9 777.1L356.3 767.7L356.7 749.6L357.0 742.8L357.4 726.4L357.8 743.6L358.1 753.7L358.5 771.5L358.9 784.4L359.2 804.8L359.6 819.7L360.0 796.7L360.4 766.0L360.9 742.7L361.3 764.6L361.7 780.1L362.1 802.5L362.5 797.6L362.8 784.4L363.2 782.4L363.6 773.5L363.9 770.6L364.3 757.2L364.6 754.5L365.0 768.8L365.4 775.6L365.7 795.2L366.1 804.3L366.5 785.4L366.8 756.7L367.2 736.4L367.6 748.8L367.9 753.7L368.3 766.3L368.7 786.0L369.1 794.7L369.6 813.4L370.0 805.0L370.4 789.0L370.8 780.8L371.2 796.9L371.5 806.8L371.9 822.5L372.2 804.1L372.5 778.4L372.8 761.7L373.2 776.4L373.7 782.7L374.1 798.9L374.4 810.1L374.7 814.8L375.0 826.1L375.4 802.6L375.8 771.4L376.2 747.2L376.7 763.9L377.1 771.7L377.5 789.8L377.8 800.2L378.1 799.6L378.4 809.8L378.8 808.0L379.2 796.3L379.5 795.3L379.9 806.4L380.2 806.8L380.6 820.3L381.0 824.3L381.3 821.1L381.7 811.2L382.1 809.8L382.4 820.9L382.8 823.3L383.1 835.1L383.5 824.9L383.9 806.1L384.2 796.7L384.6 781.7L385.0 810.6L385.3 829.9L385.7 856.9L386.0 842.1L386.4 819.4L386.8 804.3L387.1 819.9L387.5 827.5L387.9 844.2L388.2 858.7L388.6 863.1L388.9 875.9L389.3 865.5L389.7 846.4L390.0 835.1L390.4 850.2L390.8 856.8L391.1 871.4L391.5 856.6L391.8 835.9L392.2 823.2L392.6 804.3L392.9 823.7L393.3 832.8L393.7 853.4L394.0 866.9L394.4 860.1L394.7 841.7L395.1 835.1L395.5 832.4L395.8 822.3L396.2 820.9L396.6 813.4L396.9 827.7L397.3 835.9L397.6 852.6L398.0 863.2L398.4 850.7L398.7 831.6L399.1 822.2L399.5 800.8L399.8 789.8L400.2 804.5L400.5 809.9L400.9 826.4L401.3 835.1L401.6 842.1L402.0 841.2L402.4 847.8L402.7 838.8L403.1 823.1L403.4 813.4L403.8 832.6L404.2 843.3L404.5 864.1L404.9 848.5L405.3 826.3L405.6 811.6L406.0 829.2L406.3 836.9L406.7 857.2L407.1 869.6L407.4 855.7L407.8 835.2L408.2 823.9L408.5 805.2L408.9 817.2L409.2 819.9L409.6 836.7L410.0 842.4L410.3 832.8L410.7 814.2L411.1 802.5L411.4 822.8L411.8 836.4L412.1 862.0L412.5 876.8L412.9 854.8L413.2 824.3L413.6 802.5L414.0 815.0L414.3 821.7L414.7 835.1L415.0 850.4L415.4 854.5L415.8 869.6L416.1 840.9L416.5 801.0L416.9 772.6L417.2 812.0L417.6 845.1L417.9 884.1L418.3 856.4L418.7 822.0L419.1 795.3L419.4 797.0L419.8 796.0L420.1 798.9L420.5 798.9L420.9 809.3L421.2 810.0L421.6 820.6L422.0 814.0L422.3 799.1L422.7 794.5L423.1 783.5L423.4 799.9L423.8 807.2L424.1 826.0L424.5 835.1L424.9 820.2L425.2 796.6L425.6 780.8L426.0 780.4L426.3 778.3L426.7 778.9L427.0 777.1L427.4 808.2L427.8 830.8L428.1 860.5L428.5 852.3L428.9 837.7L429.2 833.6L429.6 820.6L429.9 818.4L430.3 809.0L430.7 809.4L431.0 801.6L431.4 814.8L431.8 822.4L432.1 839.0L432.5 847.8L432.8 833.6L433.2 808.4L433.6 797.2L433.9 775.3L434.3 791.2L434.7 799.4L435.0 816.9L435.4 827.9L435.7 824.3L436.1 809.6L436.5 807.8L436.8 798.0L437.2 816.9L437.6 829.6L437.9 849.6L438.3 837.1L438.6 815.6L439.0 802.5L439.3 820.7L439.6 831.3L439.9 850.5L440.3 822.3L440.6 784.4L441.0 754.5L441.4 775.8L441.8 791.3L442.3 813.4L442.7 823.9L443.1 825.9L443.5 837.0L444.0 832.4L444.4 820.1L444.8 817.0L445.2 813.8L445.6 801.1L446.0 799.4L446.4 790.7L446.8 829.7L447.2 858.5L447.5 895.9L447.9 879.2L448.4 853.2L448.8 835.1L449.2 834.5L449.5 831.8L449.9 831.5L450.2 849.8L450.6 859.7L451.0 879.5L451.4 861.8L451.8 836.4L452.2 817.9L452.7 837.9L453.1 851.0L453.5 871.4L453.9 870.4L454.2 861.0L454.6 860.5L455.0 861.9L455.3 861.6L455.7 863.8L456.0 864.1L456.4 874.9L456.8 875.8L457.1 886.3L457.5 891.3L457.9 870.1L458.2 842.9L458.6 822.5L458.9 816.9L459.3 800.1L459.7 797.9L460.0 785.3L460.4 805.9L460.8 814.7L461.1 835.1L461.5 853.5L461.8 865.1L462.2 883.2L462.6 863.8L462.9 833.3L463.3 813.4L463.7 815.1L464.0 814.9L464.4 817.0L464.7 826.8L465.1 829.0L465.5 841.2L465.8 846.0L466.2 840.2L466.6 828.7L466.9 822.5L467.3 834.1L467.6 838.7L468.0 850.5L468.4 862.3L468.8 864.4L469.3 874.1L469.7 852.9L470.1 821.9L470.5 798.9L470.9 821.9L471.3 836.4L471.6 860.5L471.9 854.4L472.2 838.5L472.5 831.5L472.9 854.7L473.3 871.7L473.6 895.9L474.0 865.7L474.5 826.8L474.9 798.0L475.3 811.2L475.6 817.9L476.0 831.5L476.3 848.9L476.7 857.0L477.1 872.3L477.4 855.2L477.8 829.3L478.2 816.6L478.5 793.5L478.9 793.1L479.2 791.7L479.6 791.8L480.0 790.7L480.3 814.8L480.7 829.0L481.1 851.5L481.4 833.7L481.8 805.4L482.1 788.0L482.5 806.7L482.9 818.4L483.2 840.8L483.6 853.3L484.0 862.4L484.3 863.1L484.7 871.4L485.0 876.7L485.4 875.8L485.8 880.5L486.1 878.4L486.5 870.5L486.9 867.8L487.2 860.3L487.6 842.2L487.9 835.1L488.4 816.5L488.8 791.6L489.2 790.4L489.5 779.7L489.9 776.2L490.2 792.0L490.6 800.7L491.0 817.0L491.3 833.3L491.7 837.9L492.1 854.2L492.4 822.0L492.7 782.5L493.0 749.9L493.3 774.3L493.6 790.7L493.9 815.2L494.2 803.6L494.6 784.4L495.0 789.7L495.3 788.8L495.7 795.3L496.0 822.5L496.4 839.4L496.8 866.9"/>
<use href="#ln-c" x="-0.25"/><use href="#ln-c" x="0.25"/>
</g>
<path class="tk" d="M69.90 907.3v3.2M123.30 907.3v3.2M176.70 907.3v3.2M230.10 907.3v3.2M283.50 907.3v3.2M336.90 907.3v3.2M390.30 907.3v3.2M443.70 907.3v3.2M497.10 907.3v3.2M48.6 854.80h-3.2M48.6 801.47h-3.2M48.6 748.14h-3.2M48.6 694.81h-3.2"/>
<rect class="sp" x="48.6" y="674.0" width="469.1" height="233.3"/>
<g class="t" font-size="16.7" text-anchor="middle">
<text x="69.9" y="926.1">0</text>
<text x="123.3" y="926.1">100</text>
<text x="176.7" y="926.1">200</text>
<text x="230.1" y="926.1">300</text>
<text x="283.5" y="926.1">400</text>
<text x="336.9" y="926.1">500</text>
<text x="390.3" y="926.1">600</text>
<text x="443.7" y="926.1">700</text>
<text x="497.1" y="926.1">800</text>
<text x="283.2" y="946.0">Time Index</text>
<text transform="translate(15.0 790.6) rotate(-90)">Daily Number of Product Sold</text>
</g>
<g class="t" font-size="16.7" text-anchor="end">
<text x="42.4" y="861.1">10</text>
<text x="42.4" y="807.8">12</text>
<text x="42.4" y="754.5">14</text>
<text x="42.4" y="701.2">16</text>
</g>
<text class="cap" text-anchor="middle" x="260.4" y="985.8">(c) Product sales</text>
</g>
<g id="chart-d">
<clipPath id="clip-d"><rect x="67.3" y="1006.3" width="449.9" height="223.2"/></clipPath>
<path class="g" d="M87.60 1006.3V1229.5M155.90 1006.3V1229.5M224.20 1006.3V1229.5M292.50 1006.3V1229.5M360.80 1006.3V1229.5M429.10 1006.3V1229.5M497.40 1006.3V1229.5M67.3 1196.20H517.2M67.3 1154.36H517.2M67.3 1112.52H517.2M67.3 1070.68H517.2M67.3 1028.84H517.2"/>
<g class="ln" clip-path="url(#clip-d)"><path id="ln-d" d="M87.7 1085.4L87.7 1062.3L87.9 1060.5L88.2 1057.3L88.4 1056.0L88.6 1053.1L88.9 1050.4L89.1 1046.3L89.3 1044.3L89.5 1040.8L89.8 1036.2L90.1 1030.4L90.4 1026.3L90.6 1020.5L90.9 1016.1L91.2 1028.8L91.4 1040.8L91.6 1046.8L91.8 1051.5L92.0 1057.7L92.2 1059.4L92.4 1059.4L92.6 1060.8L92.9 1083.8L93.1 1090.4L93.3 1095.5L93.5 1102.3L93.7 1102.6L93.9 1100.7L94.2 1100.8L94.4 1104.4L94.6 1106.1L94.8 1110.0L95.0 1113.4L95.2 1115.4L95.4 1119.2L95.6 1116.1L95.8 1111.7L96.0 1108.5L96.2 1111.9L96.4 1114.1L96.6 1117.7L96.9 1122.2L97.1 1125.0L97.3 1129.8L97.5 1133.1L97.8 1138.9L98.0 1143.0L98.2 1149.2L98.5 1153.8L98.7 1147.3L98.9 1139.7L99.1 1133.1L99.3 1130.9L99.5 1127.3L99.7 1125.4L99.9 1127.4L100.2 1128.0L100.4 1130.6L100.6 1131.5L100.9 1128.6L101.1 1124.2L101.3 1121.9L101.5 1117.7L101.8 1115.3L102.0 1111.1L102.2 1109.1L102.5 1105.4L102.7 1101.6L103.0 1095.9L103.2 1092.9L103.4 1087.4L103.7 1083.5L103.9 1089.8L104.2 1094.1L104.4 1100.4L104.6 1105.4L104.9 1110.7L105.1 1114.2L105.3 1119.8L105.5 1123.8L105.7 1126.8L105.9 1128.3L106.2 1131.5L106.4 1131.2L106.6 1128.9L106.8 1128.5L107.0 1134.3L107.2 1138.2L107.4 1143.8L107.6 1153.3L107.8 1161.5L108.1 1150.2L108.3 1137.7L108.5 1143.9L108.7 1148.4L108.9 1154.6L109.1 1151.8L109.3 1146.7L109.5 1143.8L109.8 1142.5L110.0 1139.4L110.2 1138.4L110.5 1136.2L110.7 1135.8L110.9 1133.6L111.1 1134.1L111.4 1132.3L111.6 1135.1L111.8 1136.1L112.1 1139.2L112.3 1140.8L112.5 1140.4L112.8 1138.5L113.0 1138.4L113.2 1136.9L113.5 1137.5L113.7 1136.9L113.9 1137.8L114.2 1137.7L114.4 1141.1L114.6 1142.7L114.8 1146.2L115.1 1148.5L115.3 1151.3L115.5 1152.3L115.8 1155.7L116.0 1157.7L116.2 1159.8L116.5 1160.2L116.7 1163.1L116.9 1163.8L117.2 1166.1L117.4 1166.2L117.6 1168.9L117.8 1170.0L118.1 1171.9L118.3 1172.2L118.5 1174.8L118.8 1175.4L119.0 1177.5L119.2 1177.7L119.5 1179.8L119.7 1180.8L119.9 1182.7L120.2 1183.4L120.4 1185.9L120.6 1186.9L120.9 1189.4L121.1 1190.3L121.3 1193.0L121.5 1194.6L121.8 1193.2L122.0 1190.3L122.2 1189.4L122.5 1186.9L122.7 1185.8L122.9 1182.4L123.1 1181.7L123.4 1179.2L123.6 1177.5L123.8 1174.0L124.1 1172.7L124.3 1170.0L124.5 1170.9L124.8 1169.7L125.0 1171.3L125.2 1170.8L125.5 1171.3L125.7 1170.0L126.0 1170.8L126.2 1169.8L126.5 1170.0L126.7 1170.9L127.0 1170.3L127.2 1171.3L127.4 1170.8L127.7 1171.5L127.9 1173.5L128.2 1174.1L128.4 1176.5L128.6 1177.7L128.8 1179.6L129.1 1180.4L129.3 1182.7L129.5 1183.8L129.8 1185.1L130.0 1185.1L130.2 1186.9L130.5 1186.9L130.7 1186.4L130.9 1184.2L131.2 1183.9L131.4 1182.3L131.6 1181.3L131.8 1178.7L132.1 1178.1L132.3 1176.2L132.5 1175.5L132.8 1172.7L133.0 1172.7L133.2 1170.8L133.5 1171.1L133.7 1170.0L133.9 1170.6L134.2 1170.0L134.4 1169.7L134.6 1168.0L134.8 1168.4L135.1 1166.9L135.3 1164.6L135.5 1161.2L135.8 1159.6L136.0 1156.2L136.2 1152.6L136.4 1147.6L136.6 1143.8L136.8 1140.8L137.0 1136.3L137.2 1133.1L137.4 1131.6L137.6 1128.2L137.8 1126.9L138.1 1125.3L138.3 1121.7L138.5 1120.0L138.7 1123.3L138.9 1125.1L139.1 1128.5L139.3 1129.2L139.5 1128.5L139.8 1130.2L140.0 1130.0L140.2 1134.3L140.4 1136.7L140.6 1140.8L140.8 1144.8L141.0 1147.2L141.2 1151.5L141.4 1149.3L141.6 1144.7L141.8 1142.3L142.1 1141.9L142.3 1139.3L142.5 1139.5L142.8 1137.7L143.0 1137.4L143.2 1135.6L143.5 1135.9L143.7 1134.6L143.9 1136.5L144.2 1137.4L144.4 1139.7L144.6 1140.8L144.8 1142.8L145.1 1143.2L145.3 1146.2L145.5 1146.9L145.8 1146.7L146.0 1144.6L146.2 1145.4L146.5 1143.8L146.7 1145.6L146.9 1145.3L147.2 1147.2L147.4 1147.7L147.6 1147.5L147.8 1146.1L148.1 1146.4L148.3 1145.4L148.5 1147.0L148.8 1146.6L149.0 1149.0L149.2 1149.2L149.5 1149.2L149.7 1147.4L149.9 1148.2L150.2 1146.9L150.4 1148.1L150.6 1147.8L150.8 1150.0L151.1 1150.0L151.3 1151.9L151.5 1151.6L151.8 1154.0L152.0 1154.6L152.2 1153.0L152.4 1149.8L152.6 1148.5L152.8 1147.8L153.1 1145.5L153.3 1145.8L153.5 1143.8L153.8 1144.9L154.0 1144.5L154.2 1146.3L154.5 1146.2L154.7 1145.9L154.9 1143.8L155.2 1143.7L155.4 1142.3L155.6 1143.5L155.8 1143.1L156.1 1145.3L156.3 1145.4L156.5 1143.8L156.8 1140.8L157.0 1140.4L157.2 1137.7L157.5 1136.6L157.7 1133.8L158.0 1133.2L158.2 1130.5L158.5 1129.2L158.7 1131.3L158.9 1131.9L159.2 1135.1L159.4 1136.2L159.6 1137.0L159.8 1135.9L160.0 1136.9L160.2 1135.5L160.5 1132.3L160.7 1131.9L160.9 1129.2L161.2 1128.5L161.4 1126.5L161.6 1126.2L161.8 1124.6L162.1 1123.1L162.3 1120.2L162.5 1119.3L162.8 1116.9L163.0 1116.9L163.2 1115.4L163.5 1116.0L163.7 1114.6L163.9 1113.8L164.2 1111.4L164.4 1111.2L164.6 1109.2L164.8 1108.4L165.1 1105.6L165.3 1105.4L165.5 1103.1L165.8 1105.2L166.0 1105.6L166.2 1108.3L166.5 1109.2L166.7 1109.0L166.9 1107.5L167.2 1107.9L167.4 1106.9L167.6 1108.8L167.8 1109.3L168.1 1111.9L168.3 1113.1L168.5 1115.7L168.8 1116.6L169.0 1120.0L169.2 1121.5L169.5 1123.0L169.7 1122.9L169.9 1125.0L170.2 1125.4L170.4 1126.3L170.6 1125.4L170.8 1126.5L171.1 1126.2L171.3 1125.8L171.5 1124.2L171.8 1124.5L172.0 1123.1L172.2 1122.5L172.5 1120.2L172.7 1120.3L172.9 1118.5L173.2 1118.4L173.4 1116.4L173.6 1116.8L173.8 1115.4L174.1 1115.4L174.3 1113.7L174.5 1114.3L174.8 1113.1L175.0 1112.8L175.2 1111.0L175.5 1111.3L175.7 1110.0L175.9 1112.3L176.2 1112.4L176.4 1115.4L176.6 1116.2L176.8 1114.4L177.1 1110.7L177.3 1109.2L177.5 1106.2L177.8 1105.2L178.0 1102.0L178.2 1101.3L178.5 1099.2L178.7 1099.8L178.9 1099.1L179.2 1100.2L179.4 1100.0L179.6 1102.2L179.8 1103.1L180.1 1105.8L180.3 1106.9L180.5 1108.2L180.8 1107.3L181.0 1109.0L181.2 1109.2L181.5 1105.0L181.7 1098.9L182.0 1094.6L182.2 1103.1L182.5 1110.8L182.6 1207.7L182.9 1208.7L183.1 1207.4L183.4 1208.5L183.6 1209.2L183.9 1208.3L184.1 1209.9L184.4 1209.1L184.6 1210.0L184.9 1211.1L185.1 1209.8L185.4 1211.2L185.6 1210.5L185.9 1211.9L186.2 1211.5L186.4 1212.3L186.7 1211.6L186.9 1212.8L187.2 1211.9L187.4 1213.2L187.7 1213.1L187.9 1213.5L188.2 1212.3L188.5 1213.0L188.7 1212.1L189.0 1213.1L189.2 1212.3L189.5 1213.1L189.7 1212.5L190.0 1213.9L190.3 1212.6L190.5 1214.4L190.8 1213.8L191.0 1214.1L191.3 1213.1L191.5 1213.8L191.8 1212.6L192.1 1213.7L192.3 1213.1L192.6 1213.7L192.8 1213.1L193.1 1214.6L193.3 1213.4L193.6 1214.8L193.8 1214.6L194.1 1215.3L194.4 1214.4L194.6 1216.0L194.9 1215.0L195.1 1216.3L195.4 1216.2L195.6 1216.4L195.9 1215.2L196.1 1216.3L196.4 1215.3L196.7 1216.3L196.9 1215.4L197.2 1215.7L197.4 1214.2L197.7 1215.0L197.9 1213.6L198.2 1214.5L198.5 1213.8L198.7 1215.0L199.0 1214.2L199.2 1215.7L199.4 1215.1L199.7 1216.2L199.9 1216.1L200.2 1214.2L200.4 1214.2L200.7 1212.5L200.9 1212.3L201.2 1213.1L201.4 1212.6L201.7 1213.6L201.9 1213.2L202.2 1213.8L202.4 1214.6L202.6 1214.0L202.9 1215.2L203.1 1214.4L203.4 1215.4L203.6 1215.2L203.9 1213.6L204.1 1213.9L204.4 1212.4L204.6 1212.3L204.9 1212.3L205.1 1211.3L205.4 1211.7L205.6 1210.4L205.8 1210.8L206.1 1211.7L206.3 1211.0L206.6 1212.2L206.8 1211.2L207.1 1212.3L207.3 1212.4L207.6 1211.0L207.8 1211.9L208.1 1210.5L208.3 1210.8L208.6 1211.6L208.8 1210.6L209.0 1211.8L209.3 1210.7L209.5 1211.5L209.8 1212.2L210.0 1210.7L210.3 1211.8L210.5 1210.3L210.8 1210.8L211.0 1211.9L211.3 1211.2L211.5 1212.6L211.8 1212.3L212.0 1213.1L212.2 1213.9L212.5 1213.6L212.7 1215.1L213.0 1214.5L213.2 1215.4L213.5 1215.5L213.7 1214.4L214.0 1215.2L214.2 1213.4L214.5 1213.8L214.7 1214.0L215.0 1212.5L215.2 1212.9L215.4 1211.5L215.7 1211.5L215.9 1211.9L216.2 1210.8L216.4 1211.6L216.7 1210.5L216.9 1210.8L217.2 1211.2L217.4 1209.4L217.7 1210.4L217.9 1209.1L218.2 1209.2L218.4 1210.5L218.6 1209.7L218.9 1211.1L219.1 1210.8L219.4 1211.5L219.6 1211.7L219.9 1210.4L220.1 1211.2L220.4 1209.9L220.6 1210.0L220.8 1211.5L221.1 1211.6L221.3 1213.3L221.5 1213.8L221.8 1214.7L222.0 1214.3L222.3 1215.6L222.5 1215.4L222.8 1216.2L223.0 1216.8L223.3 1216.0L223.5 1217.2L223.8 1216.2L224.0 1216.9L224.2 1217.4L224.5 1216.0L224.7 1217.1L225.0 1215.6L225.2 1216.2L225.5 1216.8L225.7 1216.0L226.0 1217.4L226.2 1216.4L226.5 1216.9L226.7 1217.0L227.0 1215.1L227.2 1215.4L227.4 1213.7L227.7 1213.8L227.9 1214.1L228.2 1212.3L228.4 1213.1L228.7 1211.3L228.9 1211.5L229.2 1212.2L229.4 1211.6L229.7 1213.0L229.9 1212.1L230.2 1213.1L230.4 1213.5L230.6 1211.7L230.9 1212.8L231.1 1211.1L231.4 1211.5L231.6 1212.6L231.9 1211.8L232.1 1213.4L232.4 1213.1L232.6 1213.8L232.9 1214.7L233.1 1214.3L233.4 1215.6L233.6 1215.0L233.8 1216.2L234.1 1216.4L234.4 1214.8L234.7 1215.6L235.0 1214.6L235.2 1215.6L235.5 1214.7L235.7 1215.9L236.0 1215.1L236.2 1216.2L236.5 1217.1L236.7 1216.2L237.0 1217.7L237.2 1216.7L237.5 1217.7L237.7 1218.2L238.0 1217.3L238.2 1218.6L238.4 1218.0L238.7 1218.5L238.9 1218.8L239.2 1217.5L239.4 1218.4L239.7 1217.2L239.9 1217.7L240.2 1218.6L240.4 1217.4L240.7 1218.7L240.9 1217.8L241.2 1218.5L241.4 1218.9L241.6 1217.3L241.9 1218.3L242.1 1216.8L242.4 1217.2L242.6 1217.8L242.9 1217.2L243.1 1218.2L243.4 1217.3L243.6 1218.2L243.9 1218.8L244.1 1218.0L244.4 1219.1L244.6 1218.7L244.8 1219.2L245.1 1219.4L245.3 1218.0L245.6 1219.0L245.8 1217.4L246.1 1217.7L246.3 1218.0L246.6 1216.8L246.8 1217.8L247.1 1216.5L247.3 1216.9L247.6 1217.8L247.8 1217.1L248.0 1218.7L248.3 1218.0L248.5 1219.2L248.8 1219.8L249.0 1218.6L249.3 1219.3L249.5 1217.9L249.8 1218.5L250.0 1218.9L250.3 1217.3L250.5 1218.0L250.8 1216.8L251.0 1216.9L251.2 1217.5L251.5 1216.2L251.7 1217.1L252.0 1215.9L252.2 1216.2L252.5 1216.8L252.7 1215.6L253.0 1216.8L253.2 1215.8L253.5 1216.6L253.7 1216.9L254.0 1215.4L254.2 1216.5L254.4 1215.2L254.7 1215.4L254.9 1216.3L255.2 1215.1L255.4 1216.2L255.7 1215.7L255.9 1216.2L256.2 1216.3L256.4 1214.8L256.7 1215.4L256.9 1214.2L257.1 1214.2L257.4 1214.6L257.6 1213.6L257.9 1214.7L258.1 1213.6L258.4 1213.8L258.6 1214.7L258.9 1213.4L259.1 1214.7L259.4 1213.7L259.6 1214.6L259.9 1215.0L260.1 1213.3L260.4 1214.2L260.6 1212.9L260.9 1213.1L261.1 1213.9L261.3 1212.9L261.6 1214.6L261.8 1213.8L262.1 1214.6L262.3 1214.5L262.6 1212.9L262.8 1213.1L263.1 1211.8L263.3 1211.5L263.5 1212.1L263.8 1210.7L264.0 1211.7L264.2 1210.8L264.5 1211.7L264.7 1211.2L265.0 1212.7L265.2 1212.2L265.5 1213.1L265.7 1213.9L266.0 1212.9L266.2 1214.7L266.4 1213.6L266.7 1214.6L266.9 1215.6L267.2 1214.7L267.4 1216.6L267.7 1215.6L267.9 1216.6L268.2 1216.7L268.4 1215.2L268.7 1215.6L268.9 1213.9L269.1 1213.8L269.4 1214.2L269.6 1212.6L269.9 1213.4L270.1 1212.3L270.4 1212.3L270.6 1212.9L270.9 1211.6L271.1 1212.4L271.4 1211.2L271.6 1211.5L271.9 1211.8L272.1 1210.6L272.4 1211.9L272.6 1210.5L272.9 1210.8L273.1 1211.0L273.3 1209.5L273.5 1209.5L273.7 1210.6L273.9 1210.0L274.1 1211.4L274.4 1211.5L274.6 1212.2L274.9 1211.7L275.1 1213.2L275.4 1212.2L275.6 1213.1L275.9 1213.4L276.1 1212.0L276.4 1213.4L276.6 1211.9L276.9 1212.3L277.1 1212.9L277.3 1212.2L277.6 1213.1L277.8 1212.4L278.1 1213.1L278.3 1213.6L278.6 1213.0L278.8 1214.0L279.1 1213.1L279.3 1213.8L279.6 1214.9L279.8 1213.8L280.0 1215.3L280.3 1214.6L280.5 1215.4L280.8 1216.3L281.0 1215.5L281.3 1216.8L281.5 1216.3L281.8 1216.9L282.0 1217.4L282.3 1216.3L282.5 1217.5L282.8 1216.6L283.0 1217.2L283.2 1217.6L283.5 1216.1L283.7 1217.0L284.0 1215.9L284.2 1216.2L284.5 1216.2L284.7 1214.8L285.0 1215.5L285.2 1213.8L285.5 1214.2L285.7 1214.5L286.0 1212.7L286.2 1213.4L286.4 1212.3L286.7 1212.3L286.9 1212.7L287.2 1210.9L287.4 1211.9L287.7 1210.5L287.9 1210.8L288.2 1211.4L288.4 1210.9L288.7 1212.5L288.9 1211.3L289.1 1212.3L289.4 1212.9L289.6 1211.2L289.9 1212.3L290.1 1211.3L290.4 1211.5L290.6 1211.6L290.9 1210.4L291.1 1211.3L291.4 1209.5L291.6 1210.0L291.9 1210.6L292.1 1209.2L292.4 1210.4L292.6 1209.1L292.9 1209.5L293.1 1210.4L293.3 1209.7L293.6 1211.0L293.8 1210.1L294.1 1210.8L294.3 1211.8L294.6 1210.8L294.8 1212.2L295.1 1211.6L295.3 1212.3L295.6 1212.9L295.8 1212.0L296.0 1213.4L296.3 1212.6L296.5 1213.1L296.8 1213.6L297.0 1212.8L297.3 1214.1L297.5 1213.2L297.8 1213.8L298.0 1214.1L298.2 1212.9L298.5 1213.6L298.7 1213.1L298.9 1212.8L299.2 1211.0L299.4 1211.6L299.6 1210.0L299.9 1209.9L300.1 1207.7L300.3 1208.2L300.5 1206.9L300.8 1207.0L301.0 1205.7L301.2 1206.5L301.5 1205.4L301.7 1206.2L302.0 1205.2L302.2 1206.2L302.4 1205.4L302.7 1206.2L302.9 1206.5L303.2 1205.0L303.4 1205.7L303.7 1204.3L303.9 1204.6L304.2 1205.1L304.4 1203.6L304.7 1204.0L304.9 1202.9L305.1 1203.1L305.4 1204.0L305.6 1203.2L305.8 1204.7L306.1 1204.6L306.3 1204.2L306.5 1201.6L306.8 1201.7L307.0 1200.0L307.2 1199.6L307.5 1197.7L307.7 1198.2L307.9 1196.9L308.2 1197.8L308.4 1196.9L308.6 1197.9L308.9 1197.7L309.1 1197.6L309.3 1195.7L309.5 1196.2L309.8 1194.6L310.0 1199.2L310.2 1199.0L310.5 1197.3L310.7 1197.3L310.9 1196.2L311.2 1195.7L311.4 1193.6L311.6 1194.0L311.9 1192.3L312.1 1192.1L312.3 1190.6L312.5 1191.0L312.8 1190.0L313.0 1191.2L313.2 1190.4L313.5 1191.5L313.7 1191.5L313.9 1191.3L314.2 1189.9L314.4 1190.6L314.6 1189.2L314.9 1189.8L315.1 1188.2L315.3 1189.5L315.5 1188.5L315.8 1189.0L316.0 1187.6L316.2 1188.3L316.5 1187.7L316.7 1188.7L316.9 1187.4L317.1 1188.6L317.4 1188.5L317.6 1189.5L317.8 1188.7L318.1 1190.1L318.3 1190.0L318.5 1190.9L318.8 1190.4L319.0 1191.5L319.2 1191.5L319.5 1192.4L319.7 1191.8L319.9 1193.5L320.1 1193.1L320.4 1194.0L320.6 1193.4L320.8 1195.2L321.1 1195.4L321.3 1194.9L321.5 1192.7L321.8 1193.2L322.0 1191.5L322.2 1191.1L322.5 1189.3L322.7 1189.2L322.9 1187.7L323.2 1188.0L323.4 1186.5L323.6 1187.5L323.9 1186.9L324.1 1187.8L324.3 1186.9L324.5 1188.4L324.8 1188.5L325.0 1189.6L325.2 1188.9L325.5 1190.9L325.7 1190.8L325.9 1190.7L326.2 1189.7L326.4 1190.0L326.6 1189.2L326.9 1189.0L327.1 1186.9L327.3 1187.0L327.5 1185.4L327.8 1185.4L328.0 1183.4L328.2 1183.5L328.5 1182.3L328.7 1182.3L328.9 1180.2L329.1 1180.4L329.4 1179.2L329.6 1180.1L329.8 1179.1L330.1 1180.3L330.3 1180.0L330.5 1181.1L330.8 1180.9L331.0 1183.1L331.2 1183.1L331.5 1183.1L331.7 1181.2L331.9 1181.7L332.1 1180.8L332.4 1180.6L332.6 1179.1L332.8 1179.8L333.1 1178.5L333.3 1180.2L333.5 1179.9L333.8 1181.8L334.0 1182.3L334.2 1183.8L334.5 1183.7L334.7 1186.0L334.9 1186.2L335.2 1186.2L335.4 1184.7L335.6 1185.7L335.9 1184.6L336.1 1185.1L336.3 1183.5L336.5 1184.7L336.8 1183.8L337.0 1184.7L337.2 1184.1L337.5 1185.5L337.7 1185.4L337.9 1184.7L338.2 1182.3L338.4 1181.8L338.6 1180.0L338.9 1180.3L339.1 1178.8L339.3 1179.2L339.5 1178.5L339.8 1179.0L340.0 1178.3L340.2 1179.5L340.5 1179.2L340.7 1181.0L340.9 1180.4L341.1 1182.9L341.4 1183.1L341.6 1183.9L341.8 1183.5L342.1 1184.6L342.3 1184.6L342.5 1185.6L342.8 1184.7L343.0 1186.3L343.2 1186.2L343.5 1186.8L343.7 1186.0L343.9 1187.3L344.1 1186.9L344.4 1187.0L344.6 1185.1L344.8 1185.9L345.1 1184.6L345.3 1184.9L345.5 1183.5L345.8 1184.2L346.0 1183.1L346.2 1183.7L346.5 1182.9L346.7 1184.2L346.9 1183.8L347.2 1183.8L347.4 1181.9L347.6 1182.0L347.9 1180.8L348.1 1180.8L348.3 1179.6L348.5 1180.4L348.8 1179.2L349.0 1178.9L349.2 1176.8L349.5 1176.9L349.7 1175.4L349.9 1176.4L350.2 1175.2L350.4 1176.4L350.6 1176.2L350.9 1178.0L351.1 1177.8L351.3 1180.4L351.5 1180.8L351.8 1182.1L352.0 1182.1L352.2 1184.4L352.5 1184.6L352.7 1185.0L352.9 1183.1L353.1 1183.8L353.4 1183.1L353.6 1183.3L353.8 1182.3L354.1 1182.9L354.3 1182.3L354.5 1184.2L354.8 1184.0L355.0 1186.5L355.2 1186.9L355.5 1187.8L355.7 1187.0L355.9 1188.6L356.1 1188.5L356.4 1189.5L356.6 1188.9L356.8 1191.0L357.1 1190.8L357.3 1191.3L357.5 1190.5L357.8 1192.0L358.0 1191.5L358.2 1192.5L358.5 1192.2L358.7 1193.7L358.9 1193.8L359.2 1194.7L359.4 1194.2L359.6 1195.6L359.9 1195.4L360.1 1195.8L360.3 1194.6L360.5 1195.1L360.8 1194.6L361.0 1195.3L361.2 1194.4L361.5 1195.6L361.7 1195.4L361.9 1196.4L362.2 1196.1L362.4 1197.8L362.6 1197.7L362.9 1198.7L363.1 1198.1L363.3 1199.2L363.5 1199.2L363.8 1200.1L364.0 1199.4L364.2 1201.0L364.5 1200.8L364.7 1201.9L364.9 1201.9L365.1 1203.7L365.4 1203.8L365.6 1205.1L365.8 1204.9L366.0 1206.2L366.2 1205.9L366.5 1203.8L366.7 1204.3L366.9 1203.1L367.2 1202.9L367.4 1201.0L367.6 1201.3L367.9 1200.0L368.1 1200.2L368.3 1198.0L368.5 1198.8L368.8 1197.7L369.0 1198.3L369.2 1197.4L369.5 1198.7L369.7 1198.5L369.9 1198.4L370.2 1196.9L370.4 1197.8L370.6 1196.9L370.9 1198.2L371.1 1197.6L371.3 1199.4L371.5 1199.2L371.8 1199.6L372.0 1198.4L372.2 1199.0L372.5 1198.5L372.7 1200.4L372.9 1200.5L373.1 1203.3L373.4 1203.8L373.6 1205.2L373.8 1205.2L374.1 1207.2L374.3 1207.7L374.5 1208.1L374.8 1206.9L375.0 1207.6L375.2 1206.9L375.5 1206.7L375.7 1204.6L375.9 1205.0L376.1 1203.8L376.4 1204.2L376.6 1202.8L376.8 1204.1L377.1 1203.1L377.3 1203.3L377.5 1202.3L377.8 1203.3L378.0 1202.3L378.2 1202.9L378.5 1201.4L378.7 1202.1L378.9 1201.5L379.2 1201.9L379.4 1200.3L379.6 1201.1L379.9 1200.0L380.1 1200.4L380.3 1198.9L380.5 1199.8L380.8 1199.2L381.0 1200.1L381.2 1199.2L381.5 1200.3L381.7 1200.0L381.9 1199.6L382.2 1197.0L382.4 1196.9L382.6 1195.4L382.9 1194.8L383.1 1192.9L383.3 1193.1L383.5 1191.5L383.8 1192.2L384.0 1191.5L384.2 1192.6L384.5 1192.3L384.7 1192.3L385.0 1192.3L385.2 1193.2L385.5 1192.3L385.7 1193.4L386.0 1192.2L386.2 1193.1L386.5 1193.6L386.7 1192.7L386.9 1194.0L387.1 1193.8L387.4 1193.3L387.6 1191.0L387.8 1191.0L388.1 1189.2L388.3 1188.7L388.5 1186.8L388.8 1186.9L389.0 1185.4L389.2 1186.9L389.5 1186.7L389.7 1188.8L389.9 1189.2L390.2 1190.5L390.4 1190.4L390.6 1192.2L390.9 1192.3L391.1 1193.2L391.3 1192.6L391.5 1194.2L391.8 1193.8L392.0 1193.8L392.2 1191.8L392.5 1191.9L392.7 1190.8L392.9 1191.1L393.2 1190.0L393.4 1190.6L393.6 1190.0L393.9 1191.5L394.1 1191.6L394.3 1193.4L394.5 1193.8L394.8 1193.8L395.0 1192.4L395.2 1192.7L395.5 1191.5L395.7 1191.3L395.9 1189.7L396.1 1190.5L396.4 1189.2L396.6 1189.2L396.8 1187.7L397.1 1188.1L397.3 1186.9L397.5 1187.2L397.8 1185.8L398.0 1186.7L398.2 1186.2L398.5 1186.7L398.7 1185.0L398.9 1186.2L399.1 1185.4L399.4 1186.5L399.6 1185.7L399.8 1187.3L400.1 1186.9L400.3 1187.7L400.5 1186.5L400.8 1188.3L401.0 1187.7L401.2 1187.3L401.5 1185.5L401.7 1186.2L401.9 1184.6L402.2 1184.4L402.4 1183.0L402.6 1183.6L402.9 1182.3L403.1 1181.7L403.3 1179.6L403.5 1179.9L403.8 1178.5L404.0 1179.7L404.2 1179.2L404.5 1180.8L404.7 1180.8L404.9 1182.1L405.2 1181.5L405.4 1182.9L405.6 1183.1L405.9 1182.7L406.1 1180.7L406.3 1180.5L406.5 1179.2L406.8 1179.3L407.0 1178.1L407.2 1178.8L407.5 1177.7L407.7 1178.9L407.9 1178.1L408.1 1179.8L408.4 1180.0L408.6 1180.3L408.8 1178.9L409.1 1179.4L409.3 1178.5L409.5 1178.5L409.8 1176.8L410.0 1177.5L410.2 1176.2L410.5 1176.9L410.7 1175.9L410.9 1177.5L411.1 1176.9L411.4 1176.9L411.6 1175.4L411.8 1176.4L412.1 1175.4L412.3 1175.7L412.5 1174.3L412.8 1175.3L413.0 1174.6L413.2 1175.0L413.5 1173.3L413.7 1174.0L413.9 1173.1L414.2 1173.4L414.4 1171.8L414.6 1172.3L414.9 1171.5L415.1 1171.4L415.3 1169.7L415.5 1169.9L415.8 1168.5L416.0 1169.9L416.2 1169.8L416.5 1172.1L416.7 1172.3L416.9 1173.1L417.2 1172.1L417.4 1173.4L417.6 1173.1L417.9 1172.8L418.1 1171.6L418.3 1171.7L418.5 1170.8L418.8 1171.0L419.0 1169.5L419.2 1170.2L419.5 1169.2L419.7 1171.1L419.9 1171.2L420.1 1173.1L420.4 1173.8L420.6 1173.9L420.8 1172.4L421.1 1172.4L421.3 1171.5L421.5 1171.3L421.8 1169.6L422.0 1169.7L422.2 1168.5L422.5 1167.9L422.7 1165.9L422.9 1166.2L423.1 1164.6L423.4 1164.8L423.6 1163.6L423.8 1164.6L424.1 1163.8L424.3 1165.2L424.5 1165.0L424.8 1167.2L425.0 1167.7L425.2 1168.7L425.5 1168.5L425.7 1170.0L425.9 1170.0L426.2 1171.3L426.4 1170.5L426.6 1172.2L426.9 1172.3L427.1 1172.4L427.3 1171.2L427.5 1171.8L427.8 1170.8L428.0 1171.0L428.2 1169.5L428.5 1170.2L428.7 1169.2L428.9 1169.6L429.2 1168.1L429.4 1169.3L429.6 1168.5L429.9 1168.1L430.1 1166.2L430.3 1166.5L430.5 1165.4L430.8 1165.4L431.0 1163.7L431.2 1164.1L431.5 1163.1L431.7 1164.2L431.9 1163.9L432.1 1165.7L432.4 1166.2L432.6 1167.7L432.8 1167.3L433.1 1169.4L433.3 1170.0L433.5 1170.0L433.8 1168.6L434.0 1169.4L434.2 1168.5L434.5 1169.7L434.7 1168.9L434.9 1170.6L435.1 1170.8L435.4 1171.8L435.6 1171.5L435.8 1172.8L436.1 1173.1L436.3 1174.6L436.5 1173.9L436.8 1176.0L437.0 1176.2L437.2 1176.3L437.5 1175.0L437.7 1176.3L437.9 1175.4L438.2 1175.2L438.4 1173.2L438.6 1173.6L438.9 1172.3L439.1 1172.4L439.3 1171.2L439.5 1171.6L439.8 1170.8L440.0 1170.7L440.2 1169.5L440.5 1170.3L440.7 1169.2L440.9 1170.1L441.2 1168.9L441.4 1170.5L441.6 1170.0L441.9 1171.0L442.1 1170.6L442.3 1172.3L442.5 1172.3L442.8 1173.2L443.0 1172.1L443.2 1173.3L443.5 1173.1L443.7 1174.1L443.9 1173.1L444.1 1174.7L444.4 1174.6L444.6 1175.7L444.8 1175.1L445.1 1176.2L445.3 1176.2L445.5 1176.8L445.8 1175.9L446.0 1177.5L446.2 1176.9L446.5 1177.0L446.7 1175.3L446.9 1175.9L447.1 1174.6L447.4 1174.7L447.6 1173.4L447.8 1174.2L448.1 1173.1L448.3 1173.5L448.5 1172.0L448.8 1173.1L449.0 1172.3L449.2 1172.6L449.4 1170.7L449.6 1170.8L449.9 1172.1L450.1 1171.3L450.3 1173.2L450.5 1173.1L450.8 1173.8L451.0 1172.8L451.2 1174.3L451.5 1173.8L451.7 1174.1L451.9 1173.0L452.1 1173.9L452.4 1173.1L452.6 1174.0L452.8 1173.5L453.1 1175.2L453.3 1175.4L453.5 1176.9L453.8 1177.3L454.0 1179.6L454.2 1180.0L454.5 1181.8L454.7 1182.3L454.9 1184.4L455.1 1185.4L455.4 1185.9L455.6 1185.1L455.8 1186.6L456.1 1186.2L456.3 1186.4L456.5 1184.7L456.8 1185.4L457.0 1184.6L457.2 1184.5L457.5 1182.6L457.7 1183.0L457.9 1181.5L458.2 1181.5L458.4 1179.3L458.6 1179.6L458.9 1178.5L459.1 1178.6L459.3 1176.5L459.5 1177.5L459.8 1176.2L460.0 1176.3L460.2 1175.3L460.5 1175.9L460.7 1175.4L460.9 1175.9L461.2 1175.0L461.4 1176.7L461.6 1176.2L461.9 1176.4L462.1 1174.7L462.3 1175.6L462.5 1174.6L462.8 1174.7L463.0 1173.5L463.2 1173.8L463.5 1173.1L463.7 1173.4L463.9 1171.9L464.1 1172.4L464.4 1171.5L464.6 1172.4L464.9 1172.3L465.2 1173.8L465.4 1174.2L465.6 1176.2L465.9 1176.9L466.1 1178.5L466.3 1178.3L466.5 1180.3L466.8 1180.8L467.0 1181.9L467.2 1181.0L467.5 1182.7L467.7 1182.3L467.9 1182.7L468.2 1181.6L468.4 1182.3L468.6 1181.5L468.9 1181.3L469.1 1179.3L469.3 1179.7L469.5 1178.5L469.8 1178.5L470.0 1176.7L470.2 1177.2L470.5 1176.2L470.7 1176.5L470.9 1175.0L471.1 1175.7L471.4 1174.6L471.6 1174.6L471.8 1173.5L472.1 1173.9L472.3 1173.1L472.5 1173.4L472.8 1171.5L473.0 1172.2L473.2 1171.5L473.5 1172.5L473.7 1171.8L473.9 1173.4L474.1 1173.1L474.4 1173.9L474.6 1173.3L474.8 1174.7L475.1 1174.6L475.3 1174.1L475.5 1171.6L475.7 1170.8L475.9 1170.6L476.2 1168.4L476.4 1168.3L476.6 1166.9L476.9 1167.4L477.1 1166.0L477.3 1166.7L477.5 1166.2L477.8 1167.0L478.0 1166.2L478.2 1167.4L478.5 1166.9L478.7 1168.0L478.9 1167.0L479.1 1168.7L479.4 1168.5L479.6 1169.1L479.8 1168.3L480.1 1169.5L480.3 1169.2L480.5 1169.6L480.8 1168.1L481.0 1168.8L481.2 1167.7L481.5 1168.8L481.7 1168.8L481.9 1170.4L482.1 1170.8L482.4 1172.5L482.6 1172.1L482.8 1174.2L483.1 1174.6L483.3 1176.1L483.5 1175.7L483.8 1177.5L484.0 1177.7L484.2 1178.7L484.5 1177.8L484.7 1179.5L484.9 1179.2L485.2 1179.1L485.4 1177.2L485.6 1177.4L485.9 1176.2L486.1 1176.2L486.3 1174.7L486.5 1175.6L486.8 1174.6L487.0 1173.8L487.2 1171.1L487.4 1170.0L487.6 1170.1L487.8 1168.5L488.1 1169.4L488.3 1168.5L488.5 1168.5L488.8 1167.1L489.0 1168.0L489.2 1166.9L489.5 1167.9L489.7 1167.7L489.9 1169.1L490.1 1169.2L490.4 1170.7L490.6 1170.0L490.8 1171.9L491.1 1172.3L491.3 1173.1L491.5 1172.6L491.8 1173.9L492.0 1173.8L492.2 1174.2L492.5 1173.1L492.7 1173.7L492.9 1173.1L493.2 1174.3L493.4 1173.8L493.6 1176.1L493.9 1176.2L494.1 1176.1L494.3 1174.6L494.5 1175.4L494.8 1174.6L495.0 1175.3L495.2 1174.2L495.5 1175.9L495.7 1175.4L495.9 1176.2L496.2 1175.2L496.4 1176.4L496.6 1176.2L496.8 1177.0L497.0 1176.3L497.2 1176.9"/>
<use href="#ln-d" x="-0.3"/><use href="#ln-d" x="0.3"/>
</g>
<path class="tk" d="M87.60 1229.5v3.2M155.90 1229.5v3.2M224.20 1229.5v3.2M292.50 1229.5v3.2M360.80 1229.5v3.2M429.10 1229.5v3.2M497.40 1229.5v3.2M67.3 1196.20h-3.2M67.3 1154.36h-3.2M67.3 1112.52h-3.2M67.3 1070.68h-3.2M67.3 1028.84h-3.2"/>
<rect class="sp" x="67.3" y="1006.3" width="449.9" height="223.2"/>
<g class="t" font-size="16.1" text-anchor="middle">
<text x="87.6" y="1247.9">0</text>
<text x="155.9" y="1247.9">500</text>
<text x="224.2" y="1247.9">1000</text>
<text x="292.5" y="1247.9">1500</text>
<text x="360.8" y="1247.9">2000</text>
<text x="429.1" y="1247.9">2500</text>
<text x="497.4" y="1247.9">3000</text>
<text x="292.2" y="1266.5">Time Index</text>
<text transform="translate(14.5 1117.9) rotate(-90)">Daily Highest Stock Price</text>
</g>
<g class="t" font-size="16.1" text-anchor="end">
<text x="61.1" y="1202.3">250</text>
<text x="61.1" y="1160.5">500</text>
<text x="61.1" y="1118.6">750</text>
<text x="61.1" y="1076.8">1000</text>
<text x="61.1" y="1035.0">1250</text>
</g>
<text class="cap" text-anchor="middle" x="260.4" y="1306.1">(d) Stock price</text>
</g>
</svg></body></html>
